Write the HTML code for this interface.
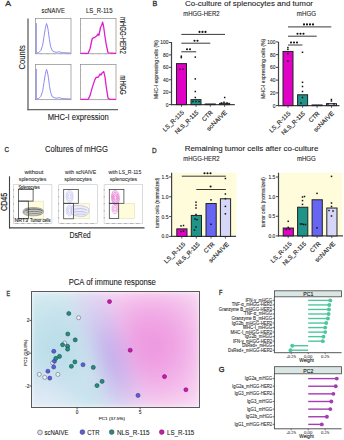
<!DOCTYPE html>
<html><head><meta charset="utf-8"><style>
html,body{margin:0;padding:0;background:#fff;}
svg{display:block;font-family:"Liberation Sans", sans-serif;}
</style></head><body>
<svg width="344" height="440" viewBox="0 0 344 440">
<rect width="344" height="440" fill="#fff"/>
<text x="5.2" y="6.0" font-size="7.6" text-anchor="start" fill="#333" stroke="#333" stroke-width="0.30" textLength="5.8" lengthAdjust="spacingAndGlyphs">A</text>
<text x="41.5" y="12.8" font-size="7.2" text-anchor="start" fill="#222" stroke="#222" stroke-width="0.10" textLength="23.3" lengthAdjust="spacingAndGlyphs">scNAIVE</text>
<text x="86" y="12.8" font-size="7.2" text-anchor="start" fill="#222" stroke="#222" stroke-width="0.10" textLength="26.5" lengthAdjust="spacingAndGlyphs">LS_R-115</text>
<line x1="28" y1="18.5" x2="28" y2="110.3" stroke="#666" stroke-width="1.35"/>
<line x1="27.4" y1="109.6" x2="118" y2="109.6" stroke="#666" stroke-width="1.35"/>
<text x="24.8" y="69.5" font-size="8.8" text-anchor="start" fill="#222" stroke="#222" stroke-width="0.10" textLength="24.4" lengthAdjust="spacingAndGlyphs" transform="rotate(-90 24.8 69.5)">Counts</text>
<text x="47.7" y="120" font-size="8.4" text-anchor="start" fill="#222" stroke="#222" stroke-width="0.10" textLength="61" lengthAdjust="spacingAndGlyphs">MHC-I expression</text>
<text x="120.2" y="16.9" font-size="8.4" text-anchor="start" fill="#222" stroke="#222" stroke-width="0.10" textLength="36.9" lengthAdjust="spacingAndGlyphs" transform="rotate(90 120.2 16.9)">mHGG-HER2</text>
<text x="120.2" y="75.3" font-size="8.4" text-anchor="start" fill="#222" stroke="#222" stroke-width="0.10" textLength="19.4" lengthAdjust="spacingAndGlyphs" transform="rotate(90 120.2 75.3)">mHGG</text>
<rect x="35.6" y="18.5" width="35.4" height="35.3" fill="#fff" stroke="#8a8a8a" stroke-width="0.7"/>
<rect x="39.6" y="53.5" width="3" height="0.6" fill="#aaa"/>
<rect x="46.1" y="53.5" width="3" height="0.6" fill="#aaa"/>
<rect x="52.6" y="53.5" width="3" height="0.6" fill="#aaa"/>
<rect x="59.1" y="53.5" width="3" height="0.6" fill="#aaa"/>
<rect x="65.6" y="53.5" width="3" height="0.6" fill="#aaa"/>
<rect x="35.4" y="23.5" width="0.7" height="1.5" fill="#aaa"/>
<rect x="35.4" y="29.5" width="0.7" height="1.5" fill="#aaa"/>
<rect x="35.4" y="35.5" width="0.7" height="1.5" fill="#aaa"/>
<rect x="35.4" y="41.5" width="0.7" height="1.5" fill="#aaa"/>
<rect x="35.4" y="47.5" width="0.7" height="1.5" fill="#aaa"/>
<rect x="80.6" y="18.5" width="35.4" height="35.3" fill="#fff" stroke="#8a8a8a" stroke-width="0.7"/>
<rect x="84.6" y="53.5" width="3" height="0.6" fill="#aaa"/>
<rect x="91.1" y="53.5" width="3" height="0.6" fill="#aaa"/>
<rect x="97.6" y="53.5" width="3" height="0.6" fill="#aaa"/>
<rect x="104.1" y="53.5" width="3" height="0.6" fill="#aaa"/>
<rect x="110.6" y="53.5" width="3" height="0.6" fill="#aaa"/>
<rect x="80.39999999999999" y="23.5" width="0.7" height="1.5" fill="#aaa"/>
<rect x="80.39999999999999" y="29.5" width="0.7" height="1.5" fill="#aaa"/>
<rect x="80.39999999999999" y="35.5" width="0.7" height="1.5" fill="#aaa"/>
<rect x="80.39999999999999" y="41.5" width="0.7" height="1.5" fill="#aaa"/>
<rect x="80.39999999999999" y="47.5" width="0.7" height="1.5" fill="#aaa"/>
<rect x="35.6" y="64.4" width="35.4" height="35.3" fill="#fff" stroke="#8a8a8a" stroke-width="0.7"/>
<rect x="39.6" y="99.4" width="3" height="0.6" fill="#aaa"/>
<rect x="46.1" y="99.4" width="3" height="0.6" fill="#aaa"/>
<rect x="52.6" y="99.4" width="3" height="0.6" fill="#aaa"/>
<rect x="59.1" y="99.4" width="3" height="0.6" fill="#aaa"/>
<rect x="65.6" y="99.4" width="3" height="0.6" fill="#aaa"/>
<rect x="35.4" y="69.4" width="0.7" height="1.5" fill="#aaa"/>
<rect x="35.4" y="75.4" width="0.7" height="1.5" fill="#aaa"/>
<rect x="35.4" y="81.4" width="0.7" height="1.5" fill="#aaa"/>
<rect x="35.4" y="87.4" width="0.7" height="1.5" fill="#aaa"/>
<rect x="35.4" y="93.4" width="0.7" height="1.5" fill="#aaa"/>
<rect x="80.6" y="64.4" width="35.4" height="35.3" fill="#fff" stroke="#8a8a8a" stroke-width="0.7"/>
<rect x="84.6" y="99.4" width="3" height="0.6" fill="#aaa"/>
<rect x="91.1" y="99.4" width="3" height="0.6" fill="#aaa"/>
<rect x="97.6" y="99.4" width="3" height="0.6" fill="#aaa"/>
<rect x="104.1" y="99.4" width="3" height="0.6" fill="#aaa"/>
<rect x="110.6" y="99.4" width="3" height="0.6" fill="#aaa"/>
<rect x="80.39999999999999" y="69.4" width="0.7" height="1.5" fill="#aaa"/>
<rect x="80.39999999999999" y="75.4" width="0.7" height="1.5" fill="#aaa"/>
<rect x="80.39999999999999" y="81.4" width="0.7" height="1.5" fill="#aaa"/>
<rect x="80.39999999999999" y="87.4" width="0.7" height="1.5" fill="#aaa"/>
<rect x="80.39999999999999" y="93.4" width="0.7" height="1.5" fill="#aaa"/>
<path d="M36.30,23.10 L36.30,53.20 L38.80,52.50 L40.80,50.50 L42.60,45.50 L44.00,36.50 L45.30,28.50 L46.50,23.50 L47.40,26.00 L48.40,31.50 L49.40,39.50 L50.60,46.50 L52.30,50.80 L54.80,52.00 L57.30,52.30 L59.30,51.70 L61.80,52.70 L70.80,53.10" stroke="#8686f2" stroke-width="0.95" fill="none" stroke-linejoin="round"/>
<path d="M36.30,69.00 L36.30,99.10 L38.80,98.40 L40.80,96.40 L42.60,91.40 L44.00,82.40 L45.30,74.40 L46.50,69.40 L47.40,71.90 L48.40,77.40 L49.40,85.40 L50.60,92.40 L52.30,96.70 L54.80,97.90 L57.30,98.20 L59.30,97.60 L61.80,98.60 L70.80,99.00" stroke="#8686f2" stroke-width="0.95" fill="none" stroke-linejoin="round"/>
<path d="M80.60,53.40 L88.10,53.40 L90.10,48.50 L92.10,39.00 L93.10,37.80 L94.60,37.50 L96.60,36.00 L98.10,34.00 L98.90,35.30 L99.60,32.00 L100.60,27.00 L101.60,25.50 L102.60,22.20 L103.60,26.50 L105.10,37.50 L106.60,46.50 L108.10,52.80 L116.00,53.40" stroke="#e01ccc" stroke-width="1.3" fill="none" stroke-linejoin="round"/>
<path d="M80.60,99.30 L88.20,99.30 L90.10,95.40 L92.60,86.40 L94.60,80.40 L96.00,77.50 L98.50,77.00 L100.00,74.00 L101.00,75.00 L102.10,72.90 L103.75,71.60 L104.90,76.40 L106.00,85.00 L107.10,92.40 L108.00,98.00 L109.50,99.30 L116.00,99.30" stroke="#e01ccc" stroke-width="1.3" fill="none" stroke-linejoin="round"/>
<text x="152.6" y="6.0" font-size="7.6" text-anchor="start" fill="#333" stroke="#333" stroke-width="0.30" textLength="4.8" lengthAdjust="spacingAndGlyphs">B</text>
<text x="185" y="6.3" font-size="7.7" text-anchor="start" fill="#222" stroke="#222" stroke-width="0.10" textLength="128" lengthAdjust="spacingAndGlyphs">Co-culture of splenocytes and tumor</text>
<text x="183.2" y="16.4" font-size="6.8" text-anchor="start" fill="#222" stroke="#222" stroke-width="0.10" textLength="36.3" lengthAdjust="spacingAndGlyphs">mHGG-HER2</text>
<text x="296.8" y="16.4" font-size="6.8" text-anchor="start" fill="#222" stroke="#222" stroke-width="0.10" textLength="19.2" lengthAdjust="spacingAndGlyphs">mHGG</text>
<line x1="171.5" y1="42" x2="171.5" y2="105.19999999999999" stroke="#444" stroke-width="1.2"/>
<line x1="170.9" y1="104.6" x2="234.8" y2="104.6" stroke="#444" stroke-width="1.2"/>
<line x1="169.0" y1="104.6" x2="171.5" y2="104.6" stroke="#333" stroke-width="0.9"/>
<text x="168.5" y="106.5" font-size="4.9" text-anchor="end" fill="#333" stroke="#333" stroke-width="0.12">0</text>
<line x1="169.0" y1="92.17999999999999" x2="171.5" y2="92.17999999999999" stroke="#333" stroke-width="0.9"/>
<text x="168.5" y="94.08" font-size="4.9" text-anchor="end" fill="#333" stroke="#333" stroke-width="0.12">20</text>
<line x1="169.0" y1="79.75999999999999" x2="171.5" y2="79.75999999999999" stroke="#333" stroke-width="0.9"/>
<text x="168.5" y="81.66" font-size="4.9" text-anchor="end" fill="#333" stroke="#333" stroke-width="0.12">40</text>
<line x1="169.0" y1="67.34" x2="171.5" y2="67.34" stroke="#333" stroke-width="0.9"/>
<text x="168.5" y="69.24000000000001" font-size="4.9" text-anchor="end" fill="#333" stroke="#333" stroke-width="0.12">60</text>
<line x1="169.0" y1="54.919999999999995" x2="171.5" y2="54.919999999999995" stroke="#333" stroke-width="0.9"/>
<text x="168.5" y="56.81999999999999" font-size="4.9" text-anchor="end" fill="#333" stroke="#333" stroke-width="0.12">80</text>
<line x1="169.0" y1="42.49999999999999" x2="171.5" y2="42.49999999999999" stroke="#333" stroke-width="0.9"/>
<text x="168.5" y="44.39999999999999" font-size="4.9" text-anchor="end" fill="#333" stroke="#333" stroke-width="0.12">100</text>
<rect x="176.5" y="63.614" width="10" height="40.986" fill="#e000c6" stroke="#222" stroke-width="1.0"/>
<line x1="181.5" y1="104.6" x2="181.5" y2="106.8" stroke="#333" stroke-width="0.8"/>
<text x="184.3" y="112.8" font-size="6.0" text-anchor="end" fill="#222" stroke="#222" stroke-width="0.14" textLength="27" lengthAdjust="spacingAndGlyphs" transform="rotate(-45 184.3 112.8)">LS_R-115</text>
<rect x="191" y="99.63199999999999" width="10" height="4.968" fill="#1f958a" stroke="#222" stroke-width="1.0"/>
<line x1="196" y1="104.6" x2="196" y2="106.8" stroke="#333" stroke-width="0.8"/>
<text x="198.8" y="112.8" font-size="6.0" text-anchor="end" fill="#222" stroke="#222" stroke-width="0.14" textLength="30.5" lengthAdjust="spacingAndGlyphs" transform="rotate(-45 198.8 112.8)">NLS_R-115</text>
<rect x="205.3" y="103.979" width="10" height="0.621" fill="#6666f2" stroke="#222" stroke-width="1.0"/>
<line x1="210.3" y1="104.6" x2="210.3" y2="106.8" stroke="#333" stroke-width="0.8"/>
<text x="213.10000000000002" y="112.8" font-size="6.0" text-anchor="end" fill="#222" stroke="#222" stroke-width="0.14" textLength="12.5" lengthAdjust="spacingAndGlyphs" transform="rotate(-45 213.10000000000002 112.8)">CTR</text>
<rect x="219.6" y="103.35799999999999" width="10" height="1.242" fill="#d6d6f8" stroke="#222" stroke-width="1.0"/>
<line x1="224.6" y1="104.6" x2="224.6" y2="106.8" stroke="#333" stroke-width="0.8"/>
<text x="227.4" y="112.8" font-size="6.0" text-anchor="end" fill="#222" stroke="#222" stroke-width="0.14" textLength="26" lengthAdjust="spacingAndGlyphs" transform="rotate(-45 227.4 112.8)">scNAIVE</text>
<rect x="180.55" y="55.45" width="1.5" height="1.5" fill="#111" stroke="none" stroke-width="1"/>
<rect x="180.55" y="56.85" width="1.5" height="1.5" fill="#111" stroke="none" stroke-width="1"/>
<rect x="179.25" y="68.45" width="1.5" height="1.5" fill="#111" stroke="none" stroke-width="1"/>
<rect x="182.25" y="68.45" width="1.5" height="1.5" fill="#111" stroke="none" stroke-width="1"/>
<rect x="194.55" y="56.35" width="1.5" height="1.5" fill="#111" stroke="none" stroke-width="1"/>
<rect x="194.55" y="78.15" width="1.5" height="1.5" fill="#111" stroke="none" stroke-width="1"/>
<rect x="194.55" y="90.75" width="1.5" height="1.5" fill="#111" stroke="none" stroke-width="1"/>
<rect x="194.55" y="96.75" width="1.5" height="1.5" fill="#111" stroke="none" stroke-width="1"/>
<rect x="192.25" y="100.75" width="1.5" height="1.5" fill="#111" stroke="none" stroke-width="1"/>
<rect x="195.25" y="100.75" width="1.5" height="1.5" fill="#111" stroke="none" stroke-width="1"/>
<rect x="198.25" y="100.75" width="1.5" height="1.5" fill="#111" stroke="none" stroke-width="1"/>
<rect x="223.95" y="96.75" width="1.5" height="1.5" fill="#111" stroke="none" stroke-width="1"/>
<rect x="220.75" y="102.25" width="1.5" height="1.5" fill="#111" stroke="none" stroke-width="1"/>
<rect x="223.25" y="101.55" width="1.5" height="1.5" fill="#111" stroke="none" stroke-width="1"/>
<rect x="226.25" y="102.25" width="1.5" height="1.5" fill="#111" stroke="none" stroke-width="1"/>
<line x1="181.3" y1="34.4" x2="225" y2="34.4" stroke="#3a3a3a" stroke-width="1.0"/>
<circle cx="199.5" cy="31.9" r="1.05" fill="#111" stroke="none" stroke-width="0.5"/>
<circle cx="202.5" cy="31.9" r="1.05" fill="#111" stroke="none" stroke-width="0.5"/>
<circle cx="205.5" cy="31.9" r="1.05" fill="#111" stroke="none" stroke-width="0.5"/>
<line x1="181.3" y1="43.2" x2="210.3" y2="43.2" stroke="#3a3a3a" stroke-width="1.0"/>
<circle cx="194.5" cy="40.7" r="1.05" fill="#111" stroke="none" stroke-width="0.5"/>
<circle cx="197.5" cy="40.7" r="1.05" fill="#111" stroke="none" stroke-width="0.5"/>
<line x1="181.3" y1="51.8" x2="196.2" y2="51.8" stroke="#3a3a3a" stroke-width="1.0"/>
<circle cx="187.0" cy="49.3" r="1.05" fill="#111" stroke="none" stroke-width="0.5"/>
<circle cx="190.0" cy="49.3" r="1.05" fill="#111" stroke="none" stroke-width="0.5"/>
<text x="158.4" y="99" font-size="5.2" text-anchor="start" fill="#333" stroke="#333" stroke-width="0.14" textLength="59" lengthAdjust="spacingAndGlyphs" transform="rotate(-90 158.4 99)">MHC-I expressing cells (%)</text>
<line x1="278.5" y1="42" x2="278.5" y2="106.19999999999999" stroke="#444" stroke-width="1.2"/>
<line x1="277.9" y1="105.6" x2="339.5" y2="105.6" stroke="#444" stroke-width="1.2"/>
<line x1="276.0" y1="105.6" x2="278.5" y2="105.6" stroke="#333" stroke-width="0.9"/>
<text x="275.5" y="107.5" font-size="4.9" text-anchor="end" fill="#333" stroke="#333" stroke-width="0.12">0</text>
<line x1="276.0" y1="92.86" x2="278.5" y2="92.86" stroke="#333" stroke-width="0.9"/>
<text x="275.5" y="94.76" font-size="4.9" text-anchor="end" fill="#333" stroke="#333" stroke-width="0.12">20</text>
<line x1="276.0" y1="80.11999999999999" x2="278.5" y2="80.11999999999999" stroke="#333" stroke-width="0.9"/>
<text x="275.5" y="82.02" font-size="4.9" text-anchor="end" fill="#333" stroke="#333" stroke-width="0.12">40</text>
<line x1="276.0" y1="67.38" x2="278.5" y2="67.38" stroke="#333" stroke-width="0.9"/>
<text x="275.5" y="69.28" font-size="4.9" text-anchor="end" fill="#333" stroke="#333" stroke-width="0.12">60</text>
<line x1="276.0" y1="54.63999999999999" x2="278.5" y2="54.63999999999999" stroke="#333" stroke-width="0.9"/>
<text x="275.5" y="56.53999999999999" font-size="4.9" text-anchor="end" fill="#333" stroke="#333" stroke-width="0.12">80</text>
<line x1="276.0" y1="41.89999999999999" x2="278.5" y2="41.89999999999999" stroke="#333" stroke-width="0.9"/>
<text x="275.5" y="43.79999999999999" font-size="4.9" text-anchor="end" fill="#333" stroke="#333" stroke-width="0.12">100</text>
<rect x="283.0" y="51.45499999999999" width="10" height="54.145" fill="#e000c6" stroke="#222" stroke-width="1.0"/>
<line x1="288.0" y1="105.6" x2="288.0" y2="107.8" stroke="#333" stroke-width="0.8"/>
<text x="290.8" y="113.8" font-size="6.0" text-anchor="end" fill="#222" stroke="#222" stroke-width="0.14" textLength="27" lengthAdjust="spacingAndGlyphs" transform="rotate(-45 290.8 113.8)">LS_R-115</text>
<rect x="297.6" y="94.77099999999999" width="10" height="10.829" fill="#1f958a" stroke="#222" stroke-width="1.0"/>
<line x1="302.6" y1="105.6" x2="302.6" y2="107.8" stroke="#333" stroke-width="0.8"/>
<text x="305.40000000000003" y="113.8" font-size="6.0" text-anchor="end" fill="#222" stroke="#222" stroke-width="0.14" textLength="30.5" lengthAdjust="spacingAndGlyphs" transform="rotate(-45 305.40000000000003 113.8)">NLS_R-115</text>
<rect x="312.1" y="104.963" width="10" height="0.637" fill="#6666f2" stroke="#222" stroke-width="1.0"/>
<line x1="317.1" y1="105.6" x2="317.1" y2="107.8" stroke="#333" stroke-width="0.8"/>
<text x="319.90000000000003" y="113.8" font-size="6.0" text-anchor="end" fill="#222" stroke="#222" stroke-width="0.14" textLength="12.5" lengthAdjust="spacingAndGlyphs" transform="rotate(-45 319.90000000000003 113.8)">CTR</text>
<rect x="326.5" y="103.689" width="10" height="1.911" fill="#d6d6f8" stroke="#222" stroke-width="1.0"/>
<line x1="331.5" y1="105.6" x2="331.5" y2="107.8" stroke="#333" stroke-width="0.8"/>
<text x="334.3" y="113.8" font-size="6.0" text-anchor="end" fill="#222" stroke="#222" stroke-width="0.14" textLength="26" lengthAdjust="spacingAndGlyphs" transform="rotate(-45 334.3 113.8)">scNAIVE</text>
<rect x="287.15" y="46.85" width="1.5" height="1.5" fill="#111" stroke="none" stroke-width="1"/>
<rect x="287.15" y="48.65" width="1.5" height="1.5" fill="#111" stroke="none" stroke-width="1"/>
<rect x="287.15" y="52.85" width="1.5" height="1.5" fill="#111" stroke="none" stroke-width="1"/>
<rect x="287.15" y="60.35" width="1.5" height="1.5" fill="#111" stroke="none" stroke-width="1"/>
<rect x="301.75" y="51.55" width="1.5" height="1.5" fill="#111" stroke="none" stroke-width="1"/>
<rect x="301.75" y="81.55" width="1.5" height="1.5" fill="#111" stroke="none" stroke-width="1"/>
<rect x="301.75" y="85.75" width="1.5" height="1.5" fill="#111" stroke="none" stroke-width="1"/>
<rect x="301.75" y="90.75" width="1.5" height="1.5" fill="#111" stroke="none" stroke-width="1"/>
<rect x="301.75" y="96.75" width="1.5" height="1.5" fill="#111" stroke="none" stroke-width="1"/>
<rect x="300.25" y="102.25" width="1.5" height="1.5" fill="#111" stroke="none" stroke-width="1"/>
<rect x="330.65" y="98.75" width="1.5" height="1.5" fill="#111" stroke="none" stroke-width="1"/>
<rect x="330.65" y="100.25" width="1.5" height="1.5" fill="#111" stroke="none" stroke-width="1"/>
<rect x="327.25" y="103.25" width="1.5" height="1.5" fill="#111" stroke="none" stroke-width="1"/>
<rect x="333.25" y="103.25" width="1.5" height="1.5" fill="#111" stroke="none" stroke-width="1"/>
<line x1="288" y1="26.9" x2="331.3" y2="26.9" stroke="#3a3a3a" stroke-width="1.0"/>
<circle cx="304.0" cy="24.4" r="1.05" fill="#111" stroke="none" stroke-width="0.5"/>
<circle cx="307.0" cy="24.4" r="1.05" fill="#111" stroke="none" stroke-width="0.5"/>
<circle cx="310.0" cy="24.4" r="1.05" fill="#111" stroke="none" stroke-width="0.5"/>
<circle cx="313.0" cy="24.4" r="1.05" fill="#111" stroke="none" stroke-width="0.5"/>
<line x1="288" y1="36.2" x2="316.7" y2="36.2" stroke="#3a3a3a" stroke-width="1.0"/>
<circle cx="297.5" cy="33.7" r="1.05" fill="#111" stroke="none" stroke-width="0.5"/>
<circle cx="300.5" cy="33.7" r="1.05" fill="#111" stroke="none" stroke-width="0.5"/>
<circle cx="303.5" cy="33.7" r="1.05" fill="#111" stroke="none" stroke-width="0.5"/>
<line x1="288" y1="45" x2="302.4" y2="45" stroke="#3a3a3a" stroke-width="1.0"/>
<circle cx="291.0" cy="42.5" r="1.05" fill="#111" stroke="none" stroke-width="0.5"/>
<circle cx="294.0" cy="42.5" r="1.05" fill="#111" stroke="none" stroke-width="0.5"/>
<circle cx="297.0" cy="42.5" r="1.05" fill="#111" stroke="none" stroke-width="0.5"/>
<text x="264.6" y="98.8" font-size="5.2" text-anchor="start" fill="#333" stroke="#333" stroke-width="0.14" textLength="60" lengthAdjust="spacingAndGlyphs" transform="rotate(-90 264.6 98.8)">MHC-I expressing cells (%)</text>
<text x="4.4" y="152.2" font-size="7.6" text-anchor="start" fill="#333" stroke="#333" stroke-width="0.30" textLength="4.6" lengthAdjust="spacingAndGlyphs">C</text>
<text x="45" y="151.8" font-size="8.3" text-anchor="start" fill="#222" stroke="#222" stroke-width="0.10" textLength="63" lengthAdjust="spacingAndGlyphs">Coltures of mHGG</text>
<line x1="9.5" y1="176.3" x2="9.5" y2="228.4" stroke="#444" stroke-width="1.1"/>
<line x1="9.0" y1="227.9" x2="144.5" y2="227.9" stroke="#444" stroke-width="1.1"/>
<text x="6.6" y="210.9" font-size="8.2" text-anchor="start" fill="#222" stroke="#222" stroke-width="0.25" textLength="18.2" lengthAdjust="spacingAndGlyphs" transform="rotate(-90 6.6 210.9)">CD45</text>
<text x="69.4" y="237.5" font-size="8.5" text-anchor="start" fill="#222" stroke="#222" stroke-width="0.10" textLength="21.2" lengthAdjust="spacingAndGlyphs">DsRed</text>
<rect x="13.3" y="184.7" width="38.6" height="38.8" fill="#fff" stroke="#c4c4c4" stroke-width="0.6"/>
<rect x="15.3" y="223.0" width="3" height="0.6" fill="#999"/>
<rect x="21.3" y="223.0" width="3" height="0.6" fill="#999"/>
<rect x="27.3" y="223.0" width="3" height="0.6" fill="#999"/>
<rect x="33.3" y="223.0" width="3" height="0.6" fill="#999"/>
<rect x="39.3" y="223.0" width="3" height="0.6" fill="#999"/>
<rect x="45.3" y="223.0" width="3" height="0.6" fill="#999"/>
<rect x="13.0" y="189" width="0.7" height="1.5" fill="#999"/>
<rect x="13.0" y="196" width="0.7" height="1.5" fill="#999"/>
<rect x="13.0" y="203" width="0.7" height="1.5" fill="#999"/>
<rect x="13.0" y="210" width="0.7" height="1.5" fill="#999"/>
<rect x="13.0" y="217" width="0.7" height="1.5" fill="#999"/>
<text x="24.4" y="174.2" font-size="5.8" text-anchor="start" fill="#333" stroke="#333" stroke-width="0.10" textLength="19" lengthAdjust="spacingAndGlyphs">without</text>
<text x="32.6" y="181.0" font-size="5.8" text-anchor="middle" fill="#333" stroke="#333" stroke-width="0.10" textLength="27.5" lengthAdjust="spacingAndGlyphs">splenocytes</text>
<rect x="58.7" y="184.7" width="38.6" height="38.8" fill="#fff" stroke="#c4c4c4" stroke-width="0.6"/>
<rect x="60.7" y="223.0" width="3" height="0.6" fill="#999"/>
<rect x="66.7" y="223.0" width="3" height="0.6" fill="#999"/>
<rect x="72.7" y="223.0" width="3" height="0.6" fill="#999"/>
<rect x="78.7" y="223.0" width="3" height="0.6" fill="#999"/>
<rect x="84.7" y="223.0" width="3" height="0.6" fill="#999"/>
<rect x="90.7" y="223.0" width="3" height="0.6" fill="#999"/>
<rect x="58.400000000000006" y="189" width="0.7" height="1.5" fill="#999"/>
<rect x="58.400000000000006" y="196" width="0.7" height="1.5" fill="#999"/>
<rect x="58.400000000000006" y="203" width="0.7" height="1.5" fill="#999"/>
<rect x="58.400000000000006" y="210" width="0.7" height="1.5" fill="#999"/>
<rect x="58.400000000000006" y="217" width="0.7" height="1.5" fill="#999"/>
<text x="65.1" y="174.2" font-size="5.8" text-anchor="start" fill="#333" stroke="#333" stroke-width="0.10" textLength="31.1" lengthAdjust="spacingAndGlyphs">with scNAIVE</text>
<text x="78.0" y="181.0" font-size="5.8" text-anchor="middle" fill="#333" stroke="#333" stroke-width="0.10" textLength="27.5" lengthAdjust="spacingAndGlyphs">splenocytes</text>
<rect x="104.1" y="184.7" width="38.6" height="38.8" fill="#fff" stroke="#c4c4c4" stroke-width="0.6"/>
<rect x="106.1" y="223.0" width="3" height="0.6" fill="#999"/>
<rect x="112.1" y="223.0" width="3" height="0.6" fill="#999"/>
<rect x="118.1" y="223.0" width="3" height="0.6" fill="#999"/>
<rect x="124.1" y="223.0" width="3" height="0.6" fill="#999"/>
<rect x="130.1" y="223.0" width="3" height="0.6" fill="#999"/>
<rect x="136.1" y="223.0" width="3" height="0.6" fill="#999"/>
<rect x="103.8" y="189" width="0.7" height="1.5" fill="#999"/>
<rect x="103.8" y="196" width="0.7" height="1.5" fill="#999"/>
<rect x="103.8" y="203" width="0.7" height="1.5" fill="#999"/>
<rect x="103.8" y="210" width="0.7" height="1.5" fill="#999"/>
<rect x="103.8" y="217" width="0.7" height="1.5" fill="#999"/>
<text x="108.5" y="174.2" font-size="5.8" text-anchor="start" fill="#333" stroke="#333" stroke-width="0.10" textLength="32.7" lengthAdjust="spacingAndGlyphs">with LS_R-115</text>
<text x="123.39999999999999" y="181.0" font-size="5.8" text-anchor="middle" fill="#333" stroke="#333" stroke-width="0.10" textLength="27.5" lengthAdjust="spacingAndGlyphs">splenocytes</text>
<rect x="28.3" y="201.1" width="15.3" height="17.700000000000017" fill="#fffcdc" stroke="#cfcfb0" stroke-width="0.4"/>
<rect x="73.5" y="203.3" width="16.0" height="15.5" fill="#fffcdc" stroke="#cfcfb0" stroke-width="0.4"/>
<rect x="118.7" y="203.3" width="15.999999999999986" height="15.299999999999983" fill="#fffcdc" stroke="#cfcfb0" stroke-width="0.4"/>
<path d="M23,211.8 C23,208.3 28,207.6 33,207.6 C38.5,207.6 43.3,208.6 43.5,211.2 C43.6,214.6 38.5,215.8 33,215.8 C28,215.8 23,215.2 23,211.8 Z" stroke="#808080" stroke-width="0.6" fill="#c6c6c0"/>
<path d="M25.5,210.6 C29.5,208.6 38.5,208.4 42.5,210.8" stroke="#3e3e3e" stroke-width="0.8" fill="none"/>
<path d="M26.5,212.4 C31,210.9 38.5,210.9 42,212.6" stroke="#555" stroke-width="0.6" fill="none"/>
<path d="M28,214.2 C32.5,213.2 37.5,213.2 41,214.4" stroke="#666" stroke-width="0.6" fill="none"/>
<path d="M23.6,213 C24.5,209.5 27,208.7 30,208.3" stroke="#777" stroke-width="0.6" fill="none"/>
<ellipse cx="69.6" cy="196.4" rx="3.60" ry="6.40" fill="#f2f2fc" stroke="#aaaaec" stroke-width="0.45" opacity="0.9" transform="rotate(0 69.6 196.4)"/>
<ellipse cx="69.6" cy="196.4" rx="2.51" ry="4.46" fill="none" stroke="#aaaaec" stroke-width="0.45" opacity="0.9" transform="rotate(0 69.6 196.4)"/>
<ellipse cx="69.6" cy="196.4" rx="1.42" ry="2.52" fill="none" stroke="#aaaaec" stroke-width="0.45" opacity="0.9" transform="rotate(0 69.6 196.4)"/>
<ellipse cx="69.5" cy="210.5" rx="3.40" ry="5.60" fill="#f2f2fc" stroke="#aaaaec" stroke-width="0.45" opacity="0.9" transform="rotate(0 69.5 210.5)"/>
<ellipse cx="69.5" cy="210.5" rx="2.37" ry="3.90" fill="none" stroke="#aaaaec" stroke-width="0.45" opacity="0.9" transform="rotate(0 69.5 210.5)"/>
<ellipse cx="69.5" cy="210.5" rx="1.34" ry="2.21" fill="none" stroke="#aaaaec" stroke-width="0.45" opacity="0.9" transform="rotate(0 69.5 210.5)"/>
<path d="M72,206 C78,204.8 86,205.5 88.5,208.5 C89.5,211.5 88,215.5 84,216.3 C79,216.8 74,215.8 71.5,214 Z" stroke="#a0a0e6" stroke-width="0.5" fill="#ececf6"/>
<path d="M74,209.5 C79,208 85,208.5 87,210.5" stroke="#9090e0" stroke-width="0.5" fill="none"/>
<path d="M74,212 C79,211 84,211.5 86.5,213" stroke="#9090e0" stroke-width="0.5" fill="none"/>
<path d="M75,214.3 C79,213.8 83,214 85.5,214.8" stroke="#9a9ae4" stroke-width="0.45" fill="none"/>
<ellipse cx="115.4" cy="197.8" rx="3.90" ry="7.40" fill="#fbe8f6" stroke="#e050c8" stroke-width="0.55" opacity="0.95" transform="rotate(-4 115.4 197.8)"/>
<ellipse cx="115.4" cy="197.8" rx="2.99" ry="5.68" fill="none" stroke="#e050c8" stroke-width="0.55" opacity="0.95" transform="rotate(-4 115.4 197.8)"/>
<ellipse cx="115.4" cy="197.8" rx="2.09" ry="3.96" fill="none" stroke="#e050c8" stroke-width="0.55" opacity="0.95" transform="rotate(-4 115.4 197.8)"/>
<ellipse cx="115.4" cy="197.8" rx="1.18" ry="2.24" fill="none" stroke="#e050c8" stroke-width="0.55" opacity="0.95" transform="rotate(-4 115.4 197.8)"/>
<ellipse cx="115.0" cy="208.8" rx="3.00" ry="4.80" fill="none" stroke="#e060cc" stroke-width="0.5" opacity="0.9" transform="rotate(0 115.0 208.8)"/>
<ellipse cx="115.0" cy="208.8" rx="2.09" ry="3.35" fill="none" stroke="#e060cc" stroke-width="0.5" opacity="0.9" transform="rotate(0 115.0 208.8)"/>
<ellipse cx="115.0" cy="208.8" rx="1.18" ry="1.89" fill="none" stroke="#e060cc" stroke-width="0.5" opacity="0.9" transform="rotate(0 115.0 208.8)"/>
<rect x="18.5" y="189.4" width="14.6" height="11.699999999999989" fill="none" stroke="#3a3a3a" stroke-width="0.75"/>
<rect x="18.5" y="201.1" width="9.8" height="17.700000000000017" fill="none" stroke="#3a3a3a" stroke-width="0.75"/>
<rect x="63.7" y="189.4" width="14.6" height="13.900000000000006" fill="none" stroke="#3a3a3a" stroke-width="0.75"/>
<rect x="63.7" y="203.3" width="9.799999999999997" height="15.5" fill="none" stroke="#3a3a3a" stroke-width="0.75"/>
<rect x="109.3" y="189.4" width="14.6" height="13.900000000000006" fill="none" stroke="#3a3a3a" stroke-width="0.75"/>
<rect x="109.3" y="203.3" width="9.400000000000006" height="15.299999999999983" fill="none" stroke="#3a3a3a" stroke-width="0.75"/>
<text x="18.4" y="188.6" font-size="4.6" text-anchor="start" fill="#222" stroke="#222" stroke-width="0.10" textLength="21.2" lengthAdjust="spacingAndGlyphs">Splenocytes</text>
<text x="14.6" y="222.4" font-size="4.5" text-anchor="start" fill="#222" stroke="#222" stroke-width="0.12" textLength="13.5" lengthAdjust="spacingAndGlyphs">NRT3</text>
<text x="29.9" y="222.4" font-size="4.5" text-anchor="start" fill="#222" stroke="#222" stroke-width="0.12" textLength="20.5" lengthAdjust="spacingAndGlyphs">Tumor cells</text>
<text x="152" y="152.5" font-size="7.6" text-anchor="start" fill="#333" stroke="#333" stroke-width="0.30" textLength="4.6" lengthAdjust="spacingAndGlyphs">D</text>
<text x="184.7" y="151.0" font-size="7.9" text-anchor="start" fill="#222" stroke="#222" stroke-width="0.10" textLength="133.7" lengthAdjust="spacingAndGlyphs">Remaining tumor cells after co-culture</text>
<text x="183.3" y="161.2" font-size="6.8" text-anchor="start" fill="#222" stroke="#222" stroke-width="0.10" textLength="36.3" lengthAdjust="spacingAndGlyphs">mHGG-HER2</text>
<text x="296.9" y="161.2" font-size="6.8" text-anchor="start" fill="#222" stroke="#222" stroke-width="0.10" textLength="18.9" lengthAdjust="spacingAndGlyphs">mHGG</text>
<rect x="171.6" y="172.7" width="64.70000000000002" height="63.70000000000002" fill="#fffcdc" stroke="none" stroke-width="1"/>
<line x1="171.6" y1="172.7" x2="171.6" y2="237.0" stroke="#444" stroke-width="1.2"/>
<line x1="171.0" y1="236.4" x2="236.1" y2="236.4" stroke="#444" stroke-width="1.2"/>
<line x1="169.1" y1="236.4" x2="171.6" y2="236.4" stroke="#333" stroke-width="0.9"/>
<text x="168.4" y="238.3" font-size="4.9" text-anchor="end" fill="#333" stroke="#333" stroke-width="0.12">0.0</text>
<line x1="169.1" y1="216.6" x2="171.6" y2="216.6" stroke="#333" stroke-width="0.9"/>
<text x="168.4" y="218.5" font-size="4.9" text-anchor="end" fill="#333" stroke="#333" stroke-width="0.12">0.5</text>
<line x1="169.1" y1="196.8" x2="171.6" y2="196.8" stroke="#333" stroke-width="0.9"/>
<text x="168.4" y="198.70000000000002" font-size="4.9" text-anchor="end" fill="#333" stroke="#333" stroke-width="0.12">1.0</text>
<line x1="169.1" y1="177.0" x2="171.6" y2="177.0" stroke="#333" stroke-width="0.9"/>
<text x="168.4" y="178.9" font-size="4.9" text-anchor="end" fill="#333" stroke="#333" stroke-width="0.12">1.5</text>
<rect x="176.8" y="228.876" width="10.2" height="7.524" fill="#e000c6" stroke="#222" stroke-width="1.0"/>
<line x1="181.8" y1="236.4" x2="181.8" y2="238.6" stroke="#333" stroke-width="0.8"/>
<text x="185.70000000000002" y="244.6" font-size="6.0" text-anchor="end" fill="#222" stroke="#222" stroke-width="0.14" textLength="27" lengthAdjust="spacingAndGlyphs" transform="rotate(-45 185.70000000000002 244.6)">LS_R-115</text>
<rect x="191.3" y="215.412" width="10.2" height="20.988000000000003" fill="#1f958a" stroke="#222" stroke-width="1.0"/>
<line x1="196.3" y1="236.4" x2="196.3" y2="238.6" stroke="#333" stroke-width="0.8"/>
<text x="200.20000000000002" y="244.6" font-size="6.0" text-anchor="end" fill="#222" stroke="#222" stroke-width="0.14" textLength="30.5" lengthAdjust="spacingAndGlyphs" transform="rotate(-45 200.20000000000002 244.6)">NLS_R-115</text>
<rect x="206" y="203.532" width="10.2" height="32.868" fill="#6666f2" stroke="#222" stroke-width="1.0"/>
<line x1="211" y1="236.4" x2="211" y2="238.6" stroke="#333" stroke-width="0.8"/>
<text x="214.9" y="244.6" font-size="6.0" text-anchor="end" fill="#222" stroke="#222" stroke-width="0.14" textLength="12.5" lengthAdjust="spacingAndGlyphs" transform="rotate(-45 214.9 244.6)">CTR</text>
<rect x="220.4" y="198.78" width="10.2" height="37.62" fill="#d6d6f8" stroke="#222" stroke-width="1.0"/>
<line x1="225.4" y1="236.4" x2="225.4" y2="238.6" stroke="#333" stroke-width="0.8"/>
<text x="229.3" y="244.6" font-size="6.0" text-anchor="end" fill="#222" stroke="#222" stroke-width="0.14" textLength="26" lengthAdjust="spacingAndGlyphs" transform="rotate(-45 229.3 244.6)">scNAIVE</text>
<rect x="180.25" y="225.15" width="1.5" height="1.5" fill="#111" stroke="none" stroke-width="1"/>
<rect x="182.75" y="224.75" width="1.5" height="1.5" fill="#111" stroke="none" stroke-width="1"/>
<rect x="180.25" y="230.75" width="1.5" height="1.5" fill="#111" stroke="none" stroke-width="1"/>
<rect x="182.75" y="230.45" width="1.5" height="1.5" fill="#111" stroke="none" stroke-width="1"/>
<rect x="195.25" y="201.45" width="1.5" height="1.5" fill="#111" stroke="none" stroke-width="1"/>
<rect x="195.25" y="204.45" width="1.5" height="1.5" fill="#111" stroke="none" stroke-width="1"/>
<rect x="195.25" y="207.25" width="1.5" height="1.5" fill="#111" stroke="none" stroke-width="1"/>
<rect x="195.25" y="213.75" width="1.5" height="1.5" fill="#111" stroke="none" stroke-width="1"/>
<rect x="194.25" y="218.25" width="1.5" height="1.5" fill="#111" stroke="none" stroke-width="1"/>
<rect x="196.25" y="218.95" width="1.5" height="1.5" fill="#111" stroke="none" stroke-width="1"/>
<rect x="195.25" y="226.25" width="1.5" height="1.5" fill="#111" stroke="none" stroke-width="1"/>
<rect x="193.75" y="229.35" width="1.5" height="1.5" fill="#111" stroke="none" stroke-width="1"/>
<rect x="210.25" y="199.15" width="1.5" height="1.5" fill="#111" stroke="none" stroke-width="1"/>
<rect x="210.25" y="223.55" width="1.5" height="1.5" fill="#111" stroke="none" stroke-width="1"/>
<rect x="224.65" y="177.75" width="1.5" height="1.5" fill="#111" stroke="none" stroke-width="1"/>
<rect x="224.65" y="193.25" width="1.5" height="1.5" fill="#111" stroke="none" stroke-width="1"/>
<rect x="224.65" y="197.95" width="1.5" height="1.5" fill="#111" stroke="none" stroke-width="1"/>
<rect x="224.65" y="205.65" width="1.5" height="1.5" fill="#111" stroke="none" stroke-width="1"/>
<rect x="224.65" y="213.05" width="1.5" height="1.5" fill="#111" stroke="none" stroke-width="1"/>
<line x1="181.8" y1="176.2" x2="225.9" y2="176.2" stroke="#3a3a3a" stroke-width="1.0"/>
<circle cx="204.5" cy="173.2" r="1.05" fill="#111" stroke="none" stroke-width="0.5"/>
<circle cx="207.5" cy="173.2" r="1.05" fill="#111" stroke="none" stroke-width="0.5"/>
<circle cx="210.5" cy="173.2" r="1.05" fill="#111" stroke="none" stroke-width="0.5"/>
<line x1="196.3" y1="189.5" x2="225.9" y2="189.5" stroke="#3a3a3a" stroke-width="1.0"/>
<circle cx="210.6" cy="186.5" r="1.05" fill="#111" stroke="none" stroke-width="0.5"/>
<text x="159" y="227.70000000000002" font-size="5.4" text-anchor="start" fill="#333" stroke="#333" stroke-width="0.14" textLength="50" lengthAdjust="spacingAndGlyphs" transform="rotate(-90 159 227.70000000000002)">tumor cells (normalized)</text>
<rect x="278.5" y="172.7" width="63.80000000000001" height="63.20000000000002" fill="#fffcdc" stroke="none" stroke-width="1"/>
<line x1="278.5" y1="172.7" x2="278.5" y2="236.5" stroke="#444" stroke-width="1.2"/>
<line x1="277.9" y1="235.9" x2="343.0" y2="235.9" stroke="#444" stroke-width="1.2"/>
<line x1="276.0" y1="235.9" x2="278.5" y2="235.9" stroke="#333" stroke-width="0.9"/>
<text x="275.3" y="237.8" font-size="4.9" text-anchor="end" fill="#333" stroke="#333" stroke-width="0.12">0.0</text>
<line x1="276.0" y1="216.26666666666668" x2="278.5" y2="216.26666666666668" stroke="#333" stroke-width="0.9"/>
<text x="275.3" y="218.16666666666669" font-size="4.9" text-anchor="end" fill="#333" stroke="#333" stroke-width="0.12">0.5</text>
<line x1="276.0" y1="196.63333333333333" x2="278.5" y2="196.63333333333333" stroke="#333" stroke-width="0.9"/>
<text x="275.3" y="198.53333333333333" font-size="4.9" text-anchor="end" fill="#333" stroke="#333" stroke-width="0.12">1.0</text>
<line x1="276.0" y1="177.0" x2="278.5" y2="177.0" stroke="#333" stroke-width="0.9"/>
<text x="275.3" y="178.9" font-size="4.9" text-anchor="end" fill="#333" stroke="#333" stroke-width="0.12">1.5</text>
<rect x="283.2" y="228.04666666666668" width="10.2" height="7.853333333333335" fill="#e000c6" stroke="#222" stroke-width="1.0"/>
<line x1="288.2" y1="235.9" x2="288.2" y2="238.1" stroke="#333" stroke-width="0.8"/>
<text x="292.09999999999997" y="244.1" font-size="6.0" text-anchor="end" fill="#222" stroke="#222" stroke-width="0.14" textLength="27" lengthAdjust="spacingAndGlyphs" transform="rotate(-45 292.09999999999997 244.1)">LS_R-115</text>
<rect x="297.6" y="207.23533333333333" width="10.2" height="28.66466666666667" fill="#1f958a" stroke="#222" stroke-width="1.0"/>
<line x1="302.6" y1="235.9" x2="302.6" y2="238.1" stroke="#333" stroke-width="0.8"/>
<text x="306.5" y="244.1" font-size="6.0" text-anchor="end" fill="#222" stroke="#222" stroke-width="0.14" textLength="30.5" lengthAdjust="spacingAndGlyphs" transform="rotate(-45 306.5 244.1)">NLS_R-115</text>
<rect x="312.1" y="199.77466666666666" width="10.2" height="36.12533333333334" fill="#6666f2" stroke="#222" stroke-width="1.0"/>
<line x1="317.1" y1="235.9" x2="317.1" y2="238.1" stroke="#333" stroke-width="0.8"/>
<text x="321.0" y="244.1" font-size="6.0" text-anchor="end" fill="#222" stroke="#222" stroke-width="0.14" textLength="12.5" lengthAdjust="spacingAndGlyphs" transform="rotate(-45 321.0 244.1)">CTR</text>
<rect x="326.8" y="208.02066666666667" width="10.2" height="27.879333333333335" fill="#d6d6f8" stroke="#222" stroke-width="1.0"/>
<line x1="331.8" y1="235.9" x2="331.8" y2="238.1" stroke="#333" stroke-width="0.8"/>
<text x="335.7" y="244.1" font-size="6.0" text-anchor="end" fill="#222" stroke="#222" stroke-width="0.14" textLength="26" lengthAdjust="spacingAndGlyphs" transform="rotate(-45 335.7 244.1)">scNAIVE</text>
<rect x="287.45" y="220.55" width="1.5" height="1.5" fill="#111" stroke="none" stroke-width="1"/>
<rect x="287.45" y="226.65" width="1.5" height="1.5" fill="#111" stroke="none" stroke-width="1"/>
<rect x="285.55" y="228.75" width="1.5" height="1.5" fill="#111" stroke="none" stroke-width="1"/>
<rect x="288.75" y="228.45" width="1.5" height="1.5" fill="#111" stroke="none" stroke-width="1"/>
<rect x="301.75" y="196.25" width="1.5" height="1.5" fill="#111" stroke="none" stroke-width="1"/>
<rect x="303.75" y="195.75" width="1.5" height="1.5" fill="#111" stroke="none" stroke-width="1"/>
<rect x="301.75" y="199.85" width="1.5" height="1.5" fill="#111" stroke="none" stroke-width="1"/>
<rect x="301.75" y="203.65" width="1.5" height="1.5" fill="#111" stroke="none" stroke-width="1"/>
<rect x="299.75" y="223.25" width="1.5" height="1.5" fill="#111" stroke="none" stroke-width="1"/>
<rect x="301.25" y="223.25" width="1.5" height="1.5" fill="#111" stroke="none" stroke-width="1"/>
<rect x="302.75" y="223.75" width="1.5" height="1.5" fill="#111" stroke="none" stroke-width="1"/>
<rect x="304.75" y="223.75" width="1.5" height="1.5" fill="#111" stroke="none" stroke-width="1"/>
<rect x="316.25" y="192.65" width="1.5" height="1.5" fill="#111" stroke="none" stroke-width="1"/>
<rect x="316.25" y="227.05" width="1.5" height="1.5" fill="#111" stroke="none" stroke-width="1"/>
<rect x="330.75" y="175.65" width="1.5" height="1.5" fill="#111" stroke="none" stroke-width="1"/>
<rect x="330.75" y="202.25" width="1.5" height="1.5" fill="#111" stroke="none" stroke-width="1"/>
<rect x="330.75" y="205.75" width="1.5" height="1.5" fill="#111" stroke="none" stroke-width="1"/>
<rect x="328.25" y="209.75" width="1.5" height="1.5" fill="#111" stroke="none" stroke-width="1"/>
<rect x="332.25" y="210.25" width="1.5" height="1.5" fill="#111" stroke="none" stroke-width="1"/>
<rect x="330.75" y="215.25" width="1.5" height="1.5" fill="#111" stroke="none" stroke-width="1"/>
<text x="265" y="227.20000000000002" font-size="5.4" text-anchor="start" fill="#333" stroke="#333" stroke-width="0.14" textLength="50" lengthAdjust="spacingAndGlyphs" transform="rotate(-90 265 227.20000000000002)">tumor cells (normalized)</text>
<text x="6.5" y="295.5" font-size="6.8" text-anchor="start" fill="#333" stroke="#333" stroke-width="0.30" textLength="3.6" lengthAdjust="spacingAndGlyphs">E</text>
<text x="68.7" y="285.3" font-size="8.4" text-anchor="start" fill="#222" stroke="#222" stroke-width="0.10" textLength="87.2" lengthAdjust="spacingAndGlyphs">PCA of immune response</text>
<defs><filter id="blur2" x="-5%" y="-5%" width="110%" height="110%"><feGaussianBlur stdDeviation="2.2"/></filter><clipPath id="pcaclip"><rect x="31.5" y="291.5" width="168" height="116"/></clipPath></defs>
<g clip-path="url(#pcaclip)"><g filter="url(#blur2)">
<rect x="31.5" y="291.5" width="4.3" height="4.3" fill="#daecf2"/><rect x="35.5" y="291.5" width="4.3" height="4.3" fill="#d9ecf2"/><rect x="39.5" y="291.5" width="4.3" height="4.3" fill="#d8ebf2"/><rect x="43.5" y="291.5" width="4.3" height="4.3" fill="#d8ebf1"/><rect x="47.5" y="291.5" width="4.3" height="4.3" fill="#d8ebf1"/><rect x="51.5" y="291.5" width="4.3" height="4.3" fill="#d8ebf1"/><rect x="55.5" y="291.5" width="4.3" height="4.3" fill="#d8eaf1"/><rect x="59.5" y="291.5" width="4.3" height="4.3" fill="#d8eaf1"/><rect x="63.5" y="291.5" width="4.3" height="4.3" fill="#d9e9f2"/><rect x="67.5" y="291.5" width="4.3" height="4.3" fill="#dbe7f2"/><rect x="71.5" y="291.5" width="4.3" height="4.3" fill="#dce5f2"/><rect x="75.5" y="291.5" width="4.3" height="4.3" fill="#dee2f3"/><rect x="79.5" y="291.5" width="4.3" height="4.3" fill="#dfdff3"/><rect x="83.5" y="291.5" width="4.3" height="4.3" fill="#e1ddf4"/><rect x="87.5" y="291.5" width="4.3" height="4.3" fill="#e3dbf4"/><rect x="91.5" y="291.5" width="4.3" height="4.3" fill="#e5daf4"/><rect x="95.5" y="291.5" width="4.3" height="4.3" fill="#e7d9f3"/><rect x="99.5" y="291.5" width="4.3" height="4.3" fill="#ead8f3"/><rect x="103.5" y="291.5" width="4.3" height="4.3" fill="#edd7f3"/><rect x="107.5" y="291.5" width="4.3" height="4.3" fill="#f0d5f2"/><rect x="111.5" y="291.5" width="4.3" height="4.3" fill="#f2d4f1"/><rect x="115.5" y="291.5" width="4.3" height="4.3" fill="#f4d2f1"/><rect x="119.5" y="291.5" width="4.3" height="4.3" fill="#f5d1f0"/><rect x="123.5" y="291.5" width="4.3" height="4.3" fill="#f5cff0"/><rect x="127.5" y="291.5" width="4.3" height="4.3" fill="#f5cdef"/><rect x="131.5" y="291.5" width="4.3" height="4.3" fill="#f5ccef"/><rect x="135.5" y="291.5" width="4.3" height="4.3" fill="#f5cbef"/><rect x="139.5" y="291.5" width="4.3" height="4.3" fill="#f5caee"/><rect x="143.5" y="291.5" width="4.3" height="4.3" fill="#f5caee"/><rect x="147.5" y="291.5" width="4.3" height="4.3" fill="#f5caee"/><rect x="151.5" y="291.5" width="4.3" height="4.3" fill="#f5c9ee"/><rect x="155.5" y="291.5" width="4.3" height="4.3" fill="#f5caee"/><rect x="159.5" y="291.5" width="4.3" height="4.3" fill="#f5caee"/><rect x="163.5" y="291.5" width="4.3" height="4.3" fill="#f5cbef"/><rect x="167.5" y="291.5" width="4.3" height="4.3" fill="#f5ccef"/><rect x="171.5" y="291.5" width="4.3" height="4.3" fill="#f6cdef"/><rect x="175.5" y="291.5" width="4.3" height="4.3" fill="#f6cff0"/><rect x="179.5" y="291.5" width="4.3" height="4.3" fill="#f6d1f0"/><rect x="183.5" y="291.5" width="4.3" height="4.3" fill="#f6d3f1"/><rect x="187.5" y="291.5" width="4.3" height="4.3" fill="#f7d6f1"/><rect x="191.5" y="291.5" width="4.3" height="4.3" fill="#f7d8f2"/><rect x="195.5" y="291.5" width="4.3" height="4.3" fill="#f7d9f2"/><rect x="31.5" y="295.5" width="4.3" height="4.3" fill="#d4eaf0"/><rect x="35.5" y="295.5" width="4.3" height="4.3" fill="#d3e9f0"/><rect x="39.5" y="295.5" width="4.3" height="4.3" fill="#d3e9f0"/><rect x="43.5" y="295.5" width="4.3" height="4.3" fill="#d2e8f0"/><rect x="47.5" y="295.5" width="4.3" height="4.3" fill="#d2e8f0"/><rect x="51.5" y="295.5" width="4.3" height="4.3" fill="#d1e8ef"/><rect x="55.5" y="295.5" width="4.3" height="4.3" fill="#d2e8ef"/><rect x="59.5" y="295.5" width="4.3" height="4.3" fill="#d2e7f0"/><rect x="63.5" y="295.5" width="4.3" height="4.3" fill="#d3e6f0"/><rect x="67.5" y="295.5" width="4.3" height="4.3" fill="#d5e4f0"/><rect x="71.5" y="295.5" width="4.3" height="4.3" fill="#d7e2f1"/><rect x="75.5" y="295.5" width="4.3" height="4.3" fill="#d9dff1"/><rect x="79.5" y="295.5" width="4.3" height="4.3" fill="#dbdcf2"/><rect x="83.5" y="295.5" width="4.3" height="4.3" fill="#dcd9f2"/><rect x="87.5" y="295.5" width="4.3" height="4.3" fill="#ded6f2"/><rect x="91.5" y="295.5" width="4.3" height="4.3" fill="#e0d5f2"/><rect x="95.5" y="295.5" width="4.3" height="4.3" fill="#e3d3f2"/><rect x="99.5" y="295.5" width="4.3" height="4.3" fill="#e6d2f2"/><rect x="103.5" y="295.5" width="4.3" height="4.3" fill="#e9d1f1"/><rect x="107.5" y="295.5" width="4.3" height="4.3" fill="#edcff0"/><rect x="111.5" y="295.5" width="4.3" height="4.3" fill="#f0cdf0"/><rect x="115.5" y="295.5" width="4.3" height="4.3" fill="#f2cbef"/><rect x="119.5" y="295.5" width="4.3" height="4.3" fill="#f3c9ee"/><rect x="123.5" y="295.5" width="4.3" height="4.3" fill="#f4c7ed"/><rect x="127.5" y="295.5" width="4.3" height="4.3" fill="#f4c5ed"/><rect x="131.5" y="295.5" width="4.3" height="4.3" fill="#f4c3ec"/><rect x="135.5" y="295.5" width="4.3" height="4.3" fill="#f4c2ec"/><rect x="139.5" y="295.5" width="4.3" height="4.3" fill="#f4c1ec"/><rect x="143.5" y="295.5" width="4.3" height="4.3" fill="#f4c0ec"/><rect x="147.5" y="295.5" width="4.3" height="4.3" fill="#f4c0eb"/><rect x="151.5" y="295.5" width="4.3" height="4.3" fill="#f4c0eb"/><rect x="155.5" y="295.5" width="4.3" height="4.3" fill="#f4c0ec"/><rect x="159.5" y="295.5" width="4.3" height="4.3" fill="#f4c1ec"/><rect x="163.5" y="295.5" width="4.3" height="4.3" fill="#f4c2ec"/><rect x="167.5" y="295.5" width="4.3" height="4.3" fill="#f4c3ec"/><rect x="171.5" y="295.5" width="4.3" height="4.3" fill="#f4c5ed"/><rect x="175.5" y="295.5" width="4.3" height="4.3" fill="#f5c6ed"/><rect x="179.5" y="295.5" width="4.3" height="4.3" fill="#f5c9ee"/><rect x="183.5" y="295.5" width="4.3" height="4.3" fill="#f5cbef"/><rect x="187.5" y="295.5" width="4.3" height="4.3" fill="#f6ceef"/><rect x="191.5" y="295.5" width="4.3" height="4.3" fill="#f6d2f0"/><rect x="195.5" y="295.5" width="4.3" height="4.3" fill="#f7d6f2"/><rect x="31.5" y="299.5" width="4.3" height="4.3" fill="#d0e8ef"/><rect x="35.5" y="299.5" width="4.3" height="4.3" fill="#cfe7ef"/><rect x="39.5" y="299.5" width="4.3" height="4.3" fill="#cee7ef"/><rect x="43.5" y="299.5" width="4.3" height="4.3" fill="#cee6ee"/><rect x="47.5" y="299.5" width="4.3" height="4.3" fill="#cde6ee"/><rect x="51.5" y="299.5" width="4.3" height="4.3" fill="#cde6ee"/><rect x="55.5" y="299.5" width="4.3" height="4.3" fill="#cde6ee"/><rect x="59.5" y="299.5" width="4.3" height="4.3" fill="#cee5ee"/><rect x="63.5" y="299.5" width="4.3" height="4.3" fill="#cfe4ef"/><rect x="67.5" y="299.5" width="4.3" height="4.3" fill="#d0e3ef"/><rect x="71.5" y="299.5" width="4.3" height="4.3" fill="#d3e0f0"/><rect x="75.5" y="299.5" width="4.3" height="4.3" fill="#d5ddf0"/><rect x="79.5" y="299.5" width="4.3" height="4.3" fill="#d7daf1"/><rect x="83.5" y="299.5" width="4.3" height="4.3" fill="#d9d6f1"/><rect x="87.5" y="299.5" width="4.3" height="4.3" fill="#dbd4f2"/><rect x="91.5" y="299.5" width="4.3" height="4.3" fill="#ddd1f2"/><rect x="95.5" y="299.5" width="4.3" height="4.3" fill="#dfcff1"/><rect x="99.5" y="299.5" width="4.3" height="4.3" fill="#e2cef1"/><rect x="103.5" y="299.5" width="4.3" height="4.3" fill="#e6ccf0"/><rect x="107.5" y="299.5" width="4.3" height="4.3" fill="#e9caef"/><rect x="111.5" y="299.5" width="4.3" height="4.3" fill="#edc8ee"/><rect x="115.5" y="299.5" width="4.3" height="4.3" fill="#f0c6ed"/><rect x="119.5" y="299.5" width="4.3" height="4.3" fill="#f2c3ec"/><rect x="123.5" y="299.5" width="4.3" height="4.3" fill="#f3c1ec"/><rect x="127.5" y="299.5" width="4.3" height="4.3" fill="#f3beeb"/><rect x="131.5" y="299.5" width="4.3" height="4.3" fill="#f3bcea"/><rect x="135.5" y="299.5" width="4.3" height="4.3" fill="#f3bbea"/><rect x="139.5" y="299.5" width="4.3" height="4.3" fill="#f3baea"/><rect x="143.5" y="299.5" width="4.3" height="4.3" fill="#f3b9ea"/><rect x="147.5" y="299.5" width="4.3" height="4.3" fill="#f3b8e9"/><rect x="151.5" y="299.5" width="4.3" height="4.3" fill="#f3b8e9"/><rect x="155.5" y="299.5" width="4.3" height="4.3" fill="#f3b9e9"/><rect x="159.5" y="299.5" width="4.3" height="4.3" fill="#f3b9ea"/><rect x="163.5" y="299.5" width="4.3" height="4.3" fill="#f3baea"/><rect x="167.5" y="299.5" width="4.3" height="4.3" fill="#f3bcea"/><rect x="171.5" y="299.5" width="4.3" height="4.3" fill="#f3beeb"/><rect x="175.5" y="299.5" width="4.3" height="4.3" fill="#f4c0ec"/><rect x="179.5" y="299.5" width="4.3" height="4.3" fill="#f4c3ec"/><rect x="183.5" y="299.5" width="4.3" height="4.3" fill="#f5c6ed"/><rect x="187.5" y="299.5" width="4.3" height="4.3" fill="#f5c9ee"/><rect x="191.5" y="299.5" width="4.3" height="4.3" fill="#f6cdef"/><rect x="195.5" y="299.5" width="4.3" height="4.3" fill="#f6d2f0"/><rect x="31.5" y="303.5" width="4.3" height="4.3" fill="#cee6ee"/><rect x="35.5" y="303.5" width="4.3" height="4.3" fill="#cce6ee"/><rect x="39.5" y="303.5" width="4.3" height="4.3" fill="#cbe5ee"/><rect x="43.5" y="303.5" width="4.3" height="4.3" fill="#cae5ed"/><rect x="47.5" y="303.5" width="4.3" height="4.3" fill="#cae5ed"/><rect x="51.5" y="303.5" width="4.3" height="4.3" fill="#cae4ed"/><rect x="55.5" y="303.5" width="4.3" height="4.3" fill="#cae4ed"/><rect x="59.5" y="303.5" width="4.3" height="4.3" fill="#cae4ed"/><rect x="63.5" y="303.5" width="4.3" height="4.3" fill="#cbe3ee"/><rect x="67.5" y="303.5" width="4.3" height="4.3" fill="#cde2ee"/><rect x="71.5" y="303.5" width="4.3" height="4.3" fill="#cfdfef"/><rect x="75.5" y="303.5" width="4.3" height="4.3" fill="#d2dcef"/><rect x="79.5" y="303.5" width="4.3" height="4.3" fill="#d4d8f0"/><rect x="83.5" y="303.5" width="4.3" height="4.3" fill="#d6d5f1"/><rect x="87.5" y="303.5" width="4.3" height="4.3" fill="#d8d2f1"/><rect x="91.5" y="303.5" width="4.3" height="4.3" fill="#dacff1"/><rect x="95.5" y="303.5" width="4.3" height="4.3" fill="#dccdf1"/><rect x="99.5" y="303.5" width="4.3" height="4.3" fill="#dfcbf0"/><rect x="103.5" y="303.5" width="4.3" height="4.3" fill="#e2c9f0"/><rect x="107.5" y="303.5" width="4.3" height="4.3" fill="#e6c7ef"/><rect x="111.5" y="303.5" width="4.3" height="4.3" fill="#ebc5ee"/><rect x="115.5" y="303.5" width="4.3" height="4.3" fill="#eec2ec"/><rect x="119.5" y="303.5" width="4.3" height="4.3" fill="#f0bfeb"/><rect x="123.5" y="303.5" width="4.3" height="4.3" fill="#f1bcea"/><rect x="127.5" y="303.5" width="4.3" height="4.3" fill="#f2b9ea"/><rect x="131.5" y="303.5" width="4.3" height="4.3" fill="#f2b7e9"/><rect x="135.5" y="303.5" width="4.3" height="4.3" fill="#f2b5e8"/><rect x="139.5" y="303.5" width="4.3" height="4.3" fill="#f2b4e8"/><rect x="143.5" y="303.5" width="4.3" height="4.3" fill="#f2b3e8"/><rect x="147.5" y="303.5" width="4.3" height="4.3" fill="#f2b2e8"/><rect x="151.5" y="303.5" width="4.3" height="4.3" fill="#f2b2e8"/><rect x="155.5" y="303.5" width="4.3" height="4.3" fill="#f2b2e8"/><rect x="159.5" y="303.5" width="4.3" height="4.3" fill="#f2b3e8"/><rect x="163.5" y="303.5" width="4.3" height="4.3" fill="#f2b5e8"/><rect x="167.5" y="303.5" width="4.3" height="4.3" fill="#f2b6e9"/><rect x="171.5" y="303.5" width="4.3" height="4.3" fill="#f3b8e9"/><rect x="175.5" y="303.5" width="4.3" height="4.3" fill="#f3bbea"/><rect x="179.5" y="303.5" width="4.3" height="4.3" fill="#f3beeb"/><rect x="183.5" y="303.5" width="4.3" height="4.3" fill="#f4c1ec"/><rect x="187.5" y="303.5" width="4.3" height="4.3" fill="#f4c5ed"/><rect x="191.5" y="303.5" width="4.3" height="4.3" fill="#f5c9ee"/><rect x="195.5" y="303.5" width="4.3" height="4.3" fill="#f6ceef"/><rect x="31.5" y="307.5" width="4.3" height="4.3" fill="#cbe5ee"/><rect x="35.5" y="307.5" width="4.3" height="4.3" fill="#cae5ed"/><rect x="39.5" y="307.5" width="4.3" height="4.3" fill="#c9e4ed"/><rect x="43.5" y="307.5" width="4.3" height="4.3" fill="#c8e4ed"/><rect x="47.5" y="307.5" width="4.3" height="4.3" fill="#c7e3ec"/><rect x="51.5" y="307.5" width="4.3" height="4.3" fill="#c7e3ec"/><rect x="55.5" y="307.5" width="4.3" height="4.3" fill="#c7e3ec"/><rect x="59.5" y="307.5" width="4.3" height="4.3" fill="#c7e2ec"/><rect x="63.5" y="307.5" width="4.3" height="4.3" fill="#c8e2ed"/><rect x="67.5" y="307.5" width="4.3" height="4.3" fill="#cae1ed"/><rect x="71.5" y="307.5" width="4.3" height="4.3" fill="#ccdfee"/><rect x="75.5" y="307.5" width="4.3" height="4.3" fill="#cfdcef"/><rect x="79.5" y="307.5" width="4.3" height="4.3" fill="#d2d8ef"/><rect x="83.5" y="307.5" width="4.3" height="4.3" fill="#d4d4f0"/><rect x="87.5" y="307.5" width="4.3" height="4.3" fill="#d5d0f0"/><rect x="91.5" y="307.5" width="4.3" height="4.3" fill="#d7cdf0"/><rect x="95.5" y="307.5" width="4.3" height="4.3" fill="#d9caf0"/><rect x="99.5" y="307.5" width="4.3" height="4.3" fill="#dcc8f0"/><rect x="103.5" y="307.5" width="4.3" height="4.3" fill="#dfc6ef"/><rect x="107.5" y="307.5" width="4.3" height="4.3" fill="#e3c4ee"/><rect x="111.5" y="307.5" width="4.3" height="4.3" fill="#e8c2ed"/><rect x="115.5" y="307.5" width="4.3" height="4.3" fill="#ecbfec"/><rect x="119.5" y="307.5" width="4.3" height="4.3" fill="#efbbea"/><rect x="123.5" y="307.5" width="4.3" height="4.3" fill="#f0b8e9"/><rect x="127.5" y="307.5" width="4.3" height="4.3" fill="#f1b5e8"/><rect x="131.5" y="307.5" width="4.3" height="4.3" fill="#f1b2e8"/><rect x="135.5" y="307.5" width="4.3" height="4.3" fill="#f1b0e7"/><rect x="139.5" y="307.5" width="4.3" height="4.3" fill="#f1afe7"/><rect x="143.5" y="307.5" width="4.3" height="4.3" fill="#f1aee6"/><rect x="147.5" y="307.5" width="4.3" height="4.3" fill="#f1ade6"/><rect x="151.5" y="307.5" width="4.3" height="4.3" fill="#f1ade6"/><rect x="155.5" y="307.5" width="4.3" height="4.3" fill="#f1ade6"/><rect x="159.5" y="307.5" width="4.3" height="4.3" fill="#f1aee7"/><rect x="163.5" y="307.5" width="4.3" height="4.3" fill="#f2b0e7"/><rect x="167.5" y="307.5" width="4.3" height="4.3" fill="#f2b2e8"/><rect x="171.5" y="307.5" width="4.3" height="4.3" fill="#f2b4e8"/><rect x="175.5" y="307.5" width="4.3" height="4.3" fill="#f2b7e9"/><rect x="179.5" y="307.5" width="4.3" height="4.3" fill="#f3baea"/><rect x="183.5" y="307.5" width="4.3" height="4.3" fill="#f3bdeb"/><rect x="187.5" y="307.5" width="4.3" height="4.3" fill="#f4c1ec"/><rect x="191.5" y="307.5" width="4.3" height="4.3" fill="#f5c6ed"/><rect x="195.5" y="307.5" width="4.3" height="4.3" fill="#f5ccef"/><rect x="31.5" y="311.5" width="4.3" height="4.3" fill="#c9e5ed"/><rect x="35.5" y="311.5" width="4.3" height="4.3" fill="#c8e4ed"/><rect x="39.5" y="311.5" width="4.3" height="4.3" fill="#c7e3ec"/><rect x="43.5" y="311.5" width="4.3" height="4.3" fill="#c6e3ec"/><rect x="47.5" y="311.5" width="4.3" height="4.3" fill="#c5e2ec"/><rect x="51.5" y="311.5" width="4.3" height="4.3" fill="#c4e2ec"/><rect x="55.5" y="311.5" width="4.3" height="4.3" fill="#c4e2ec"/><rect x="59.5" y="311.5" width="4.3" height="4.3" fill="#c5e1ec"/><rect x="63.5" y="311.5" width="4.3" height="4.3" fill="#c6e1ec"/><rect x="67.5" y="311.5" width="4.3" height="4.3" fill="#c8e0ec"/><rect x="71.5" y="311.5" width="4.3" height="4.3" fill="#cadeed"/><rect x="75.5" y="311.5" width="4.3" height="4.3" fill="#cddbee"/><rect x="79.5" y="311.5" width="4.3" height="4.3" fill="#cfd8ef"/><rect x="83.5" y="311.5" width="4.3" height="4.3" fill="#d1d3ef"/><rect x="87.5" y="311.5" width="4.3" height="4.3" fill="#d3cff0"/><rect x="91.5" y="311.5" width="4.3" height="4.3" fill="#d5ccf0"/><rect x="95.5" y="311.5" width="4.3" height="4.3" fill="#d7c9f0"/><rect x="99.5" y="311.5" width="4.3" height="4.3" fill="#d9c6ef"/><rect x="103.5" y="311.5" width="4.3" height="4.3" fill="#dcc4ef"/><rect x="107.5" y="311.5" width="4.3" height="4.3" fill="#e0c2ee"/><rect x="111.5" y="311.5" width="4.3" height="4.3" fill="#e5bfed"/><rect x="115.5" y="311.5" width="4.3" height="4.3" fill="#e9bceb"/><rect x="119.5" y="311.5" width="4.3" height="4.3" fill="#edb8ea"/><rect x="123.5" y="311.5" width="4.3" height="4.3" fill="#efb4e8"/><rect x="127.5" y="311.5" width="4.3" height="4.3" fill="#f0b1e7"/><rect x="131.5" y="311.5" width="4.3" height="4.3" fill="#f1aee7"/><rect x="135.5" y="311.5" width="4.3" height="4.3" fill="#f1ace6"/><rect x="139.5" y="311.5" width="4.3" height="4.3" fill="#f1aae6"/><rect x="143.5" y="311.5" width="4.3" height="4.3" fill="#f0a9e5"/><rect x="147.5" y="311.5" width="4.3" height="4.3" fill="#f0a8e5"/><rect x="151.5" y="311.5" width="4.3" height="4.3" fill="#f0a8e5"/><rect x="155.5" y="311.5" width="4.3" height="4.3" fill="#f1a9e5"/><rect x="159.5" y="311.5" width="4.3" height="4.3" fill="#f1aae5"/><rect x="163.5" y="311.5" width="4.3" height="4.3" fill="#f1abe6"/><rect x="167.5" y="311.5" width="4.3" height="4.3" fill="#f1ade6"/><rect x="171.5" y="311.5" width="4.3" height="4.3" fill="#f2b0e7"/><rect x="175.5" y="311.5" width="4.3" height="4.3" fill="#f2b3e8"/><rect x="179.5" y="311.5" width="4.3" height="4.3" fill="#f2b6e9"/><rect x="183.5" y="311.5" width="4.3" height="4.3" fill="#f3baea"/><rect x="187.5" y="311.5" width="4.3" height="4.3" fill="#f4beeb"/><rect x="191.5" y="311.5" width="4.3" height="4.3" fill="#f4c3ec"/><rect x="195.5" y="311.5" width="4.3" height="4.3" fill="#f5c9ee"/><rect x="31.5" y="315.5" width="4.3" height="4.3" fill="#c8e4ed"/><rect x="35.5" y="315.5" width="4.3" height="4.3" fill="#c6e3ec"/><rect x="39.5" y="315.5" width="4.3" height="4.3" fill="#c5e2ec"/><rect x="43.5" y="315.5" width="4.3" height="4.3" fill="#c4e2eb"/><rect x="47.5" y="315.5" width="4.3" height="4.3" fill="#c3e1eb"/><rect x="51.5" y="315.5" width="4.3" height="4.3" fill="#c2e1eb"/><rect x="55.5" y="315.5" width="4.3" height="4.3" fill="#c2e1eb"/><rect x="59.5" y="315.5" width="4.3" height="4.3" fill="#c3e1eb"/><rect x="63.5" y="315.5" width="4.3" height="4.3" fill="#c4e0eb"/><rect x="67.5" y="315.5" width="4.3" height="4.3" fill="#c5e0ec"/><rect x="71.5" y="315.5" width="4.3" height="4.3" fill="#c8deec"/><rect x="75.5" y="315.5" width="4.3" height="4.3" fill="#cbdbed"/><rect x="79.5" y="315.5" width="4.3" height="4.3" fill="#cdd8ee"/><rect x="83.5" y="315.5" width="4.3" height="4.3" fill="#cfd3ef"/><rect x="87.5" y="315.5" width="4.3" height="4.3" fill="#d1cfef"/><rect x="91.5" y="315.5" width="4.3" height="4.3" fill="#d2caef"/><rect x="95.5" y="315.5" width="4.3" height="4.3" fill="#d4c7ef"/><rect x="99.5" y="315.5" width="4.3" height="4.3" fill="#d6c4ef"/><rect x="103.5" y="315.5" width="4.3" height="4.3" fill="#d9c1ee"/><rect x="107.5" y="315.5" width="4.3" height="4.3" fill="#ddbfed"/><rect x="111.5" y="315.5" width="4.3" height="4.3" fill="#e2bdec"/><rect x="115.5" y="315.5" width="4.3" height="4.3" fill="#e7b9eb"/><rect x="119.5" y="315.5" width="4.3" height="4.3" fill="#ebb6e9"/><rect x="123.5" y="315.5" width="4.3" height="4.3" fill="#eeb2e8"/><rect x="127.5" y="315.5" width="4.3" height="4.3" fill="#efaee7"/><rect x="131.5" y="315.5" width="4.3" height="4.3" fill="#f0abe6"/><rect x="135.5" y="315.5" width="4.3" height="4.3" fill="#f0a8e5"/><rect x="139.5" y="315.5" width="4.3" height="4.3" fill="#f0a6e4"/><rect x="143.5" y="315.5" width="4.3" height="4.3" fill="#f0a5e4"/><rect x="147.5" y="315.5" width="4.3" height="4.3" fill="#f0a4e4"/><rect x="151.5" y="315.5" width="4.3" height="4.3" fill="#f0a4e4"/><rect x="155.5" y="315.5" width="4.3" height="4.3" fill="#f0a5e4"/><rect x="159.5" y="315.5" width="4.3" height="4.3" fill="#f0a6e4"/><rect x="163.5" y="315.5" width="4.3" height="4.3" fill="#f0a7e5"/><rect x="167.5" y="315.5" width="4.3" height="4.3" fill="#f1aae5"/><rect x="171.5" y="315.5" width="4.3" height="4.3" fill="#f1ace6"/><rect x="175.5" y="315.5" width="4.3" height="4.3" fill="#f1afe7"/><rect x="179.5" y="315.5" width="4.3" height="4.3" fill="#f2b3e8"/><rect x="183.5" y="315.5" width="4.3" height="4.3" fill="#f3b7e9"/><rect x="187.5" y="315.5" width="4.3" height="4.3" fill="#f3bcea"/><rect x="191.5" y="315.5" width="4.3" height="4.3" fill="#f4c1ec"/><rect x="195.5" y="315.5" width="4.3" height="4.3" fill="#f5c7ee"/><rect x="31.5" y="319.5" width="4.3" height="4.3" fill="#c6e3ec"/><rect x="35.5" y="319.5" width="4.3" height="4.3" fill="#c5e2ec"/><rect x="39.5" y="319.5" width="4.3" height="4.3" fill="#c3e2eb"/><rect x="43.5" y="319.5" width="4.3" height="4.3" fill="#c2e1eb"/><rect x="47.5" y="319.5" width="4.3" height="4.3" fill="#c1e0eb"/><rect x="51.5" y="319.5" width="4.3" height="4.3" fill="#c0e0ea"/><rect x="55.5" y="319.5" width="4.3" height="4.3" fill="#c0e0ea"/><rect x="59.5" y="319.5" width="4.3" height="4.3" fill="#c1e0ea"/><rect x="63.5" y="319.5" width="4.3" height="4.3" fill="#c2e0eb"/><rect x="67.5" y="319.5" width="4.3" height="4.3" fill="#c3dfeb"/><rect x="71.5" y="319.5" width="4.3" height="4.3" fill="#c6deec"/><rect x="75.5" y="319.5" width="4.3" height="4.3" fill="#c9dbed"/><rect x="79.5" y="319.5" width="4.3" height="4.3" fill="#cbd8ee"/><rect x="83.5" y="319.5" width="4.3" height="4.3" fill="#cdd3ee"/><rect x="87.5" y="319.5" width="4.3" height="4.3" fill="#cfceef"/><rect x="91.5" y="319.5" width="4.3" height="4.3" fill="#d0caef"/><rect x="95.5" y="319.5" width="4.3" height="4.3" fill="#d2c5ef"/><rect x="99.5" y="319.5" width="4.3" height="4.3" fill="#d4c2ee"/><rect x="103.5" y="319.5" width="4.3" height="4.3" fill="#d6bfee"/><rect x="107.5" y="319.5" width="4.3" height="4.3" fill="#dabded"/><rect x="111.5" y="319.5" width="4.3" height="4.3" fill="#dfbaec"/><rect x="115.5" y="319.5" width="4.3" height="4.3" fill="#e4b7ea"/><rect x="119.5" y="319.5" width="4.3" height="4.3" fill="#e9b3e9"/><rect x="123.5" y="319.5" width="4.3" height="4.3" fill="#ecafe7"/><rect x="127.5" y="319.5" width="4.3" height="4.3" fill="#eeabe6"/><rect x="131.5" y="319.5" width="4.3" height="4.3" fill="#efa8e5"/><rect x="135.5" y="319.5" width="4.3" height="4.3" fill="#efa5e4"/><rect x="139.5" y="319.5" width="4.3" height="4.3" fill="#efa3e4"/><rect x="143.5" y="319.5" width="4.3" height="4.3" fill="#efa2e3"/><rect x="147.5" y="319.5" width="4.3" height="4.3" fill="#efa1e3"/><rect x="151.5" y="319.5" width="4.3" height="4.3" fill="#efa1e3"/><rect x="155.5" y="319.5" width="4.3" height="4.3" fill="#efa1e3"/><rect x="159.5" y="319.5" width="4.3" height="4.3" fill="#f0a2e3"/><rect x="163.5" y="319.5" width="4.3" height="4.3" fill="#f0a4e4"/><rect x="167.5" y="319.5" width="4.3" height="4.3" fill="#f0a6e4"/><rect x="171.5" y="319.5" width="4.3" height="4.3" fill="#f1a9e5"/><rect x="175.5" y="319.5" width="4.3" height="4.3" fill="#f1ade6"/><rect x="179.5" y="319.5" width="4.3" height="4.3" fill="#f2b0e7"/><rect x="183.5" y="319.5" width="4.3" height="4.3" fill="#f2b5e8"/><rect x="187.5" y="319.5" width="4.3" height="4.3" fill="#f3baea"/><rect x="191.5" y="319.5" width="4.3" height="4.3" fill="#f4bfeb"/><rect x="195.5" y="319.5" width="4.3" height="4.3" fill="#f5c6ed"/><rect x="31.5" y="323.5" width="4.3" height="4.3" fill="#c5e3ec"/><rect x="35.5" y="323.5" width="4.3" height="4.3" fill="#c3e2eb"/><rect x="39.5" y="323.5" width="4.3" height="4.3" fill="#c2e1eb"/><rect x="43.5" y="323.5" width="4.3" height="4.3" fill="#c0e0ea"/><rect x="47.5" y="323.5" width="4.3" height="4.3" fill="#bfe0ea"/><rect x="51.5" y="323.5" width="4.3" height="4.3" fill="#bfdfea"/><rect x="55.5" y="323.5" width="4.3" height="4.3" fill="#bedfea"/><rect x="59.5" y="323.5" width="4.3" height="4.3" fill="#bfdfea"/><rect x="63.5" y="323.5" width="4.3" height="4.3" fill="#c0dfea"/><rect x="67.5" y="323.5" width="4.3" height="4.3" fill="#c2dfeb"/><rect x="71.5" y="323.5" width="4.3" height="4.3" fill="#c4deeb"/><rect x="75.5" y="323.5" width="4.3" height="4.3" fill="#c7dcec"/><rect x="79.5" y="323.5" width="4.3" height="4.3" fill="#c9d8ed"/><rect x="83.5" y="323.5" width="4.3" height="4.3" fill="#ccd3ee"/><rect x="87.5" y="323.5" width="4.3" height="4.3" fill="#cdceee"/><rect x="91.5" y="323.5" width="4.3" height="4.3" fill="#cec9ef"/><rect x="95.5" y="323.5" width="4.3" height="4.3" fill="#cfc4ee"/><rect x="99.5" y="323.5" width="4.3" height="4.3" fill="#d1c0ee"/><rect x="103.5" y="323.5" width="4.3" height="4.3" fill="#d3bded"/><rect x="107.5" y="323.5" width="4.3" height="4.3" fill="#d7bbed"/><rect x="111.5" y="323.5" width="4.3" height="4.3" fill="#dcb8ec"/><rect x="115.5" y="323.5" width="4.3" height="4.3" fill="#e1b5ea"/><rect x="119.5" y="323.5" width="4.3" height="4.3" fill="#e7b2e8"/><rect x="123.5" y="323.5" width="4.3" height="4.3" fill="#ebade7"/><rect x="127.5" y="323.5" width="4.3" height="4.3" fill="#eda9e5"/><rect x="131.5" y="323.5" width="4.3" height="4.3" fill="#eea5e4"/><rect x="135.5" y="323.5" width="4.3" height="4.3" fill="#efa2e3"/><rect x="139.5" y="323.5" width="4.3" height="4.3" fill="#efa0e3"/><rect x="143.5" y="323.5" width="4.3" height="4.3" fill="#ef9fe2"/><rect x="147.5" y="323.5" width="4.3" height="4.3" fill="#ef9ee2"/><rect x="151.5" y="323.5" width="4.3" height="4.3" fill="#ef9ee2"/><rect x="155.5" y="323.5" width="4.3" height="4.3" fill="#ef9ee2"/><rect x="159.5" y="323.5" width="4.3" height="4.3" fill="#ef9fe3"/><rect x="163.5" y="323.5" width="4.3" height="4.3" fill="#f0a1e3"/><rect x="167.5" y="323.5" width="4.3" height="4.3" fill="#f0a4e4"/><rect x="171.5" y="323.5" width="4.3" height="4.3" fill="#f0a7e5"/><rect x="175.5" y="323.5" width="4.3" height="4.3" fill="#f1aae6"/><rect x="179.5" y="323.5" width="4.3" height="4.3" fill="#f1aee7"/><rect x="183.5" y="323.5" width="4.3" height="4.3" fill="#f2b3e8"/><rect x="187.5" y="323.5" width="4.3" height="4.3" fill="#f3b8e9"/><rect x="191.5" y="323.5" width="4.3" height="4.3" fill="#f3beeb"/><rect x="195.5" y="323.5" width="4.3" height="4.3" fill="#f4c4ed"/><rect x="31.5" y="327.5" width="4.3" height="4.3" fill="#c4e2ec"/><rect x="35.5" y="327.5" width="4.3" height="4.3" fill="#c2e1eb"/><rect x="39.5" y="327.5" width="4.3" height="4.3" fill="#c0e0ea"/><rect x="43.5" y="327.5" width="4.3" height="4.3" fill="#bfe0ea"/><rect x="47.5" y="327.5" width="4.3" height="4.3" fill="#bedfea"/><rect x="51.5" y="327.5" width="4.3" height="4.3" fill="#bddfea"/><rect x="55.5" y="327.5" width="4.3" height="4.3" fill="#bddee9"/><rect x="59.5" y="327.5" width="4.3" height="4.3" fill="#bddeea"/><rect x="63.5" y="327.5" width="4.3" height="4.3" fill="#bedeea"/><rect x="67.5" y="327.5" width="4.3" height="4.3" fill="#c0deea"/><rect x="71.5" y="327.5" width="4.3" height="4.3" fill="#c2deeb"/><rect x="75.5" y="327.5" width="4.3" height="4.3" fill="#c5dcec"/><rect x="79.5" y="327.5" width="4.3" height="4.3" fill="#c8d8ed"/><rect x="83.5" y="327.5" width="4.3" height="4.3" fill="#cad4ed"/><rect x="87.5" y="327.5" width="4.3" height="4.3" fill="#cbceee"/><rect x="91.5" y="327.5" width="4.3" height="4.3" fill="#ccc8ee"/><rect x="95.5" y="327.5" width="4.3" height="4.3" fill="#cdc3ee"/><rect x="99.5" y="327.5" width="4.3" height="4.3" fill="#cebfee"/><rect x="103.5" y="327.5" width="4.3" height="4.3" fill="#d0bbed"/><rect x="107.5" y="327.5" width="4.3" height="4.3" fill="#d4b8ec"/><rect x="111.5" y="327.5" width="4.3" height="4.3" fill="#d9b6eb"/><rect x="115.5" y="327.5" width="4.3" height="4.3" fill="#deb3ea"/><rect x="119.5" y="327.5" width="4.3" height="4.3" fill="#e4b0e8"/><rect x="123.5" y="327.5" width="4.3" height="4.3" fill="#e9ace7"/><rect x="127.5" y="327.5" width="4.3" height="4.3" fill="#eca7e5"/><rect x="131.5" y="327.5" width="4.3" height="4.3" fill="#eea3e4"/><rect x="135.5" y="327.5" width="4.3" height="4.3" fill="#eea0e3"/><rect x="139.5" y="327.5" width="4.3" height="4.3" fill="#ee9ee2"/><rect x="143.5" y="327.5" width="4.3" height="4.3" fill="#ef9ce2"/><rect x="147.5" y="327.5" width="4.3" height="4.3" fill="#ef9be1"/><rect x="151.5" y="327.5" width="4.3" height="4.3" fill="#ef9be1"/><rect x="155.5" y="327.5" width="4.3" height="4.3" fill="#ef9ce2"/><rect x="159.5" y="327.5" width="4.3" height="4.3" fill="#ef9de2"/><rect x="163.5" y="327.5" width="4.3" height="4.3" fill="#ef9fe2"/><rect x="167.5" y="327.5" width="4.3" height="4.3" fill="#f0a1e3"/><rect x="171.5" y="327.5" width="4.3" height="4.3" fill="#f0a4e4"/><rect x="175.5" y="327.5" width="4.3" height="4.3" fill="#f0a8e5"/><rect x="179.5" y="327.5" width="4.3" height="4.3" fill="#f1ace6"/><rect x="183.5" y="327.5" width="4.3" height="4.3" fill="#f2b1e7"/><rect x="187.5" y="327.5" width="4.3" height="4.3" fill="#f2b6e9"/><rect x="191.5" y="327.5" width="4.3" height="4.3" fill="#f3bcea"/><rect x="195.5" y="327.5" width="4.3" height="4.3" fill="#f4c3ec"/><rect x="31.5" y="331.5" width="4.3" height="4.3" fill="#c3e2eb"/><rect x="35.5" y="331.5" width="4.3" height="4.3" fill="#c1e1eb"/><rect x="39.5" y="331.5" width="4.3" height="4.3" fill="#bfe0ea"/><rect x="43.5" y="331.5" width="4.3" height="4.3" fill="#bedfea"/><rect x="47.5" y="331.5" width="4.3" height="4.3" fill="#bcdee9"/><rect x="51.5" y="331.5" width="4.3" height="4.3" fill="#bcdee9"/><rect x="55.5" y="331.5" width="4.3" height="4.3" fill="#bcdee9"/><rect x="59.5" y="331.5" width="4.3" height="4.3" fill="#bcdee9"/><rect x="63.5" y="331.5" width="4.3" height="4.3" fill="#bddee9"/><rect x="67.5" y="331.5" width="4.3" height="4.3" fill="#bedeea"/><rect x="71.5" y="331.5" width="4.3" height="4.3" fill="#c1ddea"/><rect x="75.5" y="331.5" width="4.3" height="4.3" fill="#c3dceb"/><rect x="79.5" y="331.5" width="4.3" height="4.3" fill="#c6d9ec"/><rect x="83.5" y="331.5" width="4.3" height="4.3" fill="#c9d4ed"/><rect x="87.5" y="331.5" width="4.3" height="4.3" fill="#cacfed"/><rect x="91.5" y="331.5" width="4.3" height="4.3" fill="#cbc8ee"/><rect x="95.5" y="331.5" width="4.3" height="4.3" fill="#cbc2ee"/><rect x="99.5" y="331.5" width="4.3" height="4.3" fill="#ccbded"/><rect x="103.5" y="331.5" width="4.3" height="4.3" fill="#ceb9ed"/><rect x="107.5" y="331.5" width="4.3" height="4.3" fill="#d1b6ec"/><rect x="111.5" y="331.5" width="4.3" height="4.3" fill="#d5b4eb"/><rect x="115.5" y="331.5" width="4.3" height="4.3" fill="#dbb2ea"/><rect x="119.5" y="331.5" width="4.3" height="4.3" fill="#e1aee8"/><rect x="123.5" y="331.5" width="4.3" height="4.3" fill="#e7abe6"/><rect x="127.5" y="331.5" width="4.3" height="4.3" fill="#eba6e5"/><rect x="131.5" y="331.5" width="4.3" height="4.3" fill="#eda2e3"/><rect x="135.5" y="331.5" width="4.3" height="4.3" fill="#ee9ee2"/><rect x="139.5" y="331.5" width="4.3" height="4.3" fill="#ee9ce2"/><rect x="143.5" y="331.5" width="4.3" height="4.3" fill="#ee9ae1"/><rect x="147.5" y="331.5" width="4.3" height="4.3" fill="#ee99e1"/><rect x="151.5" y="331.5" width="4.3" height="4.3" fill="#ee99e1"/><rect x="155.5" y="331.5" width="4.3" height="4.3" fill="#ee9ae1"/><rect x="159.5" y="331.5" width="4.3" height="4.3" fill="#ef9be1"/><rect x="163.5" y="331.5" width="4.3" height="4.3" fill="#ef9de2"/><rect x="167.5" y="331.5" width="4.3" height="4.3" fill="#ef9fe3"/><rect x="171.5" y="331.5" width="4.3" height="4.3" fill="#f0a3e3"/><rect x="175.5" y="331.5" width="4.3" height="4.3" fill="#f0a6e4"/><rect x="179.5" y="331.5" width="4.3" height="4.3" fill="#f1abe6"/><rect x="183.5" y="331.5" width="4.3" height="4.3" fill="#f1afe7"/><rect x="187.5" y="331.5" width="4.3" height="4.3" fill="#f2b5e8"/><rect x="191.5" y="331.5" width="4.3" height="4.3" fill="#f3bbea"/><rect x="195.5" y="331.5" width="4.3" height="4.3" fill="#f4c2ec"/><rect x="31.5" y="335.5" width="4.3" height="4.3" fill="#c2e1eb"/><rect x="35.5" y="335.5" width="4.3" height="4.3" fill="#c0e0ea"/><rect x="39.5" y="335.5" width="4.3" height="4.3" fill="#bedfea"/><rect x="43.5" y="335.5" width="4.3" height="4.3" fill="#bddfe9"/><rect x="47.5" y="335.5" width="4.3" height="4.3" fill="#bbdee9"/><rect x="51.5" y="335.5" width="4.3" height="4.3" fill="#bbdee9"/><rect x="55.5" y="335.5" width="4.3" height="4.3" fill="#badde9"/><rect x="59.5" y="335.5" width="4.3" height="4.3" fill="#bbdde9"/><rect x="63.5" y="335.5" width="4.3" height="4.3" fill="#bcdee9"/><rect x="67.5" y="335.5" width="4.3" height="4.3" fill="#bddee9"/><rect x="71.5" y="335.5" width="4.3" height="4.3" fill="#c0ddea"/><rect x="75.5" y="335.5" width="4.3" height="4.3" fill="#c2dceb"/><rect x="79.5" y="335.5" width="4.3" height="4.3" fill="#c5daec"/><rect x="83.5" y="335.5" width="4.3" height="4.3" fill="#c7d5ed"/><rect x="87.5" y="335.5" width="4.3" height="4.3" fill="#c9cfed"/><rect x="91.5" y="335.5" width="4.3" height="4.3" fill="#c9c9ed"/><rect x="95.5" y="335.5" width="4.3" height="4.3" fill="#c9c2ed"/><rect x="99.5" y="335.5" width="4.3" height="4.3" fill="#cabced"/><rect x="103.5" y="335.5" width="4.3" height="4.3" fill="#cbb8ec"/><rect x="107.5" y="335.5" width="4.3" height="4.3" fill="#ceb5ec"/><rect x="111.5" y="335.5" width="4.3" height="4.3" fill="#d2b2eb"/><rect x="115.5" y="335.5" width="4.3" height="4.3" fill="#d8b0ea"/><rect x="119.5" y="335.5" width="4.3" height="4.3" fill="#dfade8"/><rect x="123.5" y="335.5" width="4.3" height="4.3" fill="#e5aae6"/><rect x="127.5" y="335.5" width="4.3" height="4.3" fill="#e9a5e5"/><rect x="131.5" y="335.5" width="4.3" height="4.3" fill="#eca1e3"/><rect x="135.5" y="335.5" width="4.3" height="4.3" fill="#ed9de2"/><rect x="139.5" y="335.5" width="4.3" height="4.3" fill="#ee9be1"/><rect x="143.5" y="335.5" width="4.3" height="4.3" fill="#ee99e1"/><rect x="147.5" y="335.5" width="4.3" height="4.3" fill="#ee98e0"/><rect x="151.5" y="335.5" width="4.3" height="4.3" fill="#ee98e0"/><rect x="155.5" y="335.5" width="4.3" height="4.3" fill="#ee98e1"/><rect x="159.5" y="335.5" width="4.3" height="4.3" fill="#ee99e1"/><rect x="163.5" y="335.5" width="4.3" height="4.3" fill="#ef9be1"/><rect x="167.5" y="335.5" width="4.3" height="4.3" fill="#ef9ee2"/><rect x="171.5" y="335.5" width="4.3" height="4.3" fill="#f0a1e3"/><rect x="175.5" y="335.5" width="4.3" height="4.3" fill="#f0a5e4"/><rect x="179.5" y="335.5" width="4.3" height="4.3" fill="#f1a9e5"/><rect x="183.5" y="335.5" width="4.3" height="4.3" fill="#f1aee7"/><rect x="187.5" y="335.5" width="4.3" height="4.3" fill="#f2b4e8"/><rect x="191.5" y="335.5" width="4.3" height="4.3" fill="#f3baea"/><rect x="195.5" y="335.5" width="4.3" height="4.3" fill="#f4c2ec"/><rect x="31.5" y="339.5" width="4.3" height="4.3" fill="#c2e1eb"/><rect x="35.5" y="339.5" width="4.3" height="4.3" fill="#bfe0ea"/><rect x="39.5" y="339.5" width="4.3" height="4.3" fill="#bedfea"/><rect x="43.5" y="339.5" width="4.3" height="4.3" fill="#bcdee9"/><rect x="47.5" y="339.5" width="4.3" height="4.3" fill="#bbdee9"/><rect x="51.5" y="339.5" width="4.3" height="4.3" fill="#badde9"/><rect x="55.5" y="339.5" width="4.3" height="4.3" fill="#badde9"/><rect x="59.5" y="339.5" width="4.3" height="4.3" fill="#badde9"/><rect x="63.5" y="339.5" width="4.3" height="4.3" fill="#bbdde9"/><rect x="67.5" y="339.5" width="4.3" height="4.3" fill="#bcdde9"/><rect x="71.5" y="339.5" width="4.3" height="4.3" fill="#bfddea"/><rect x="75.5" y="339.5" width="4.3" height="4.3" fill="#c1ddeb"/><rect x="79.5" y="339.5" width="4.3" height="4.3" fill="#c4dbeb"/><rect x="83.5" y="339.5" width="4.3" height="4.3" fill="#c6d6ec"/><rect x="87.5" y="339.5" width="4.3" height="4.3" fill="#c8d0ed"/><rect x="91.5" y="339.5" width="4.3" height="4.3" fill="#c8c9ed"/><rect x="95.5" y="339.5" width="4.3" height="4.3" fill="#c8c2ed"/><rect x="99.5" y="339.5" width="4.3" height="4.3" fill="#c8bced"/><rect x="103.5" y="339.5" width="4.3" height="4.3" fill="#c9b7ec"/><rect x="107.5" y="339.5" width="4.3" height="4.3" fill="#cbb3ec"/><rect x="111.5" y="339.5" width="4.3" height="4.3" fill="#cfb1eb"/><rect x="115.5" y="339.5" width="4.3" height="4.3" fill="#d5afea"/><rect x="119.5" y="339.5" width="4.3" height="4.3" fill="#dcace8"/><rect x="123.5" y="339.5" width="4.3" height="4.3" fill="#e2a9e7"/><rect x="127.5" y="339.5" width="4.3" height="4.3" fill="#e7a5e5"/><rect x="131.5" y="339.5" width="4.3" height="4.3" fill="#eba1e3"/><rect x="135.5" y="339.5" width="4.3" height="4.3" fill="#ed9de2"/><rect x="139.5" y="339.5" width="4.3" height="4.3" fill="#ed9ae1"/><rect x="143.5" y="339.5" width="4.3" height="4.3" fill="#ee98e0"/><rect x="147.5" y="339.5" width="4.3" height="4.3" fill="#ee97e0"/><rect x="151.5" y="339.5" width="4.3" height="4.3" fill="#ee97e0"/><rect x="155.5" y="339.5" width="4.3" height="4.3" fill="#ee97e0"/><rect x="159.5" y="339.5" width="4.3" height="4.3" fill="#ee99e1"/><rect x="163.5" y="339.5" width="4.3" height="4.3" fill="#ef9be1"/><rect x="167.5" y="339.5" width="4.3" height="4.3" fill="#ef9de2"/><rect x="171.5" y="339.5" width="4.3" height="4.3" fill="#efa1e3"/><rect x="175.5" y="339.5" width="4.3" height="4.3" fill="#f0a4e4"/><rect x="179.5" y="339.5" width="4.3" height="4.3" fill="#f1a9e5"/><rect x="183.5" y="339.5" width="4.3" height="4.3" fill="#f1aee7"/><rect x="187.5" y="339.5" width="4.3" height="4.3" fill="#f2b3e8"/><rect x="191.5" y="339.5" width="4.3" height="4.3" fill="#f3baea"/><rect x="195.5" y="339.5" width="4.3" height="4.3" fill="#f4c1ec"/><rect x="31.5" y="343.5" width="4.3" height="4.3" fill="#c1e1eb"/><rect x="35.5" y="343.5" width="4.3" height="4.3" fill="#bfe0ea"/><rect x="39.5" y="343.5" width="4.3" height="4.3" fill="#bddfea"/><rect x="43.5" y="343.5" width="4.3" height="4.3" fill="#bbdee9"/><rect x="47.5" y="343.5" width="4.3" height="4.3" fill="#badde9"/><rect x="51.5" y="343.5" width="4.3" height="4.3" fill="#b9dde9"/><rect x="55.5" y="343.5" width="4.3" height="4.3" fill="#b9dde8"/><rect x="59.5" y="343.5" width="4.3" height="4.3" fill="#badde8"/><rect x="63.5" y="343.5" width="4.3" height="4.3" fill="#badde9"/><rect x="67.5" y="343.5" width="4.3" height="4.3" fill="#bcdde9"/><rect x="71.5" y="343.5" width="4.3" height="4.3" fill="#bedeea"/><rect x="75.5" y="343.5" width="4.3" height="4.3" fill="#c1ddea"/><rect x="79.5" y="343.5" width="4.3" height="4.3" fill="#c3dbeb"/><rect x="83.5" y="343.5" width="4.3" height="4.3" fill="#c6d8ec"/><rect x="87.5" y="343.5" width="4.3" height="4.3" fill="#c7d2ed"/><rect x="91.5" y="343.5" width="4.3" height="4.3" fill="#c7cbed"/><rect x="95.5" y="343.5" width="4.3" height="4.3" fill="#c6c3ed"/><rect x="99.5" y="343.5" width="4.3" height="4.3" fill="#c6bcec"/><rect x="103.5" y="343.5" width="4.3" height="4.3" fill="#c7b6ec"/><rect x="107.5" y="343.5" width="4.3" height="4.3" fill="#c9b2eb"/><rect x="111.5" y="343.5" width="4.3" height="4.3" fill="#cdafeb"/><rect x="115.5" y="343.5" width="4.3" height="4.3" fill="#d2adea"/><rect x="119.5" y="343.5" width="4.3" height="4.3" fill="#d9ace8"/><rect x="123.5" y="343.5" width="4.3" height="4.3" fill="#e0a9e7"/><rect x="127.5" y="343.5" width="4.3" height="4.3" fill="#e6a5e5"/><rect x="131.5" y="343.5" width="4.3" height="4.3" fill="#eaa1e3"/><rect x="135.5" y="343.5" width="4.3" height="4.3" fill="#ec9de2"/><rect x="139.5" y="343.5" width="4.3" height="4.3" fill="#ed9ae1"/><rect x="143.5" y="343.5" width="4.3" height="4.3" fill="#ee98e0"/><rect x="147.5" y="343.5" width="4.3" height="4.3" fill="#ee97e0"/><rect x="151.5" y="343.5" width="4.3" height="4.3" fill="#ee97e0"/><rect x="155.5" y="343.5" width="4.3" height="4.3" fill="#ee97e0"/><rect x="159.5" y="343.5" width="4.3" height="4.3" fill="#ee98e1"/><rect x="163.5" y="343.5" width="4.3" height="4.3" fill="#ef9ae1"/><rect x="167.5" y="343.5" width="4.3" height="4.3" fill="#ef9de2"/><rect x="171.5" y="343.5" width="4.3" height="4.3" fill="#efa0e3"/><rect x="175.5" y="343.5" width="4.3" height="4.3" fill="#f0a4e4"/><rect x="179.5" y="343.5" width="4.3" height="4.3" fill="#f1a9e5"/><rect x="183.5" y="343.5" width="4.3" height="4.3" fill="#f1aee6"/><rect x="187.5" y="343.5" width="4.3" height="4.3" fill="#f2b3e8"/><rect x="191.5" y="343.5" width="4.3" height="4.3" fill="#f3baea"/><rect x="195.5" y="343.5" width="4.3" height="4.3" fill="#f4c1ec"/><rect x="31.5" y="347.5" width="4.3" height="4.3" fill="#c1e1eb"/><rect x="35.5" y="347.5" width="4.3" height="4.3" fill="#bfe0ea"/><rect x="39.5" y="347.5" width="4.3" height="4.3" fill="#bddfea"/><rect x="43.5" y="347.5" width="4.3" height="4.3" fill="#bbdee9"/><rect x="47.5" y="347.5" width="4.3" height="4.3" fill="#badde9"/><rect x="51.5" y="347.5" width="4.3" height="4.3" fill="#b9dde8"/><rect x="55.5" y="347.5" width="4.3" height="4.3" fill="#b9dde8"/><rect x="59.5" y="347.5" width="4.3" height="4.3" fill="#b9dde8"/><rect x="63.5" y="347.5" width="4.3" height="4.3" fill="#badde9"/><rect x="67.5" y="347.5" width="4.3" height="4.3" fill="#bcdde9"/><rect x="71.5" y="347.5" width="4.3" height="4.3" fill="#bedeea"/><rect x="75.5" y="347.5" width="4.3" height="4.3" fill="#c0ddea"/><rect x="79.5" y="347.5" width="4.3" height="4.3" fill="#c3dceb"/><rect x="83.5" y="347.5" width="4.3" height="4.3" fill="#c5d9ec"/><rect x="87.5" y="347.5" width="4.3" height="4.3" fill="#c6d4ec"/><rect x="91.5" y="347.5" width="4.3" height="4.3" fill="#c6cced"/><rect x="95.5" y="347.5" width="4.3" height="4.3" fill="#c6c4ec"/><rect x="99.5" y="347.5" width="4.3" height="4.3" fill="#c5bdec"/><rect x="103.5" y="347.5" width="4.3" height="4.3" fill="#c5b6ec"/><rect x="107.5" y="347.5" width="4.3" height="4.3" fill="#c7b2eb"/><rect x="111.5" y="347.5" width="4.3" height="4.3" fill="#cbafeb"/><rect x="115.5" y="347.5" width="4.3" height="4.3" fill="#d0adea"/><rect x="119.5" y="347.5" width="4.3" height="4.3" fill="#d6abe9"/><rect x="123.5" y="347.5" width="4.3" height="4.3" fill="#dda9e7"/><rect x="127.5" y="347.5" width="4.3" height="4.3" fill="#e4a6e5"/><rect x="131.5" y="347.5" width="4.3" height="4.3" fill="#e9a2e4"/><rect x="135.5" y="347.5" width="4.3" height="4.3" fill="#ec9ee2"/><rect x="139.5" y="347.5" width="4.3" height="4.3" fill="#ed9be1"/><rect x="143.5" y="347.5" width="4.3" height="4.3" fill="#ed99e1"/><rect x="147.5" y="347.5" width="4.3" height="4.3" fill="#ee97e0"/><rect x="151.5" y="347.5" width="4.3" height="4.3" fill="#ee97e0"/><rect x="155.5" y="347.5" width="4.3" height="4.3" fill="#ee97e0"/><rect x="159.5" y="347.5" width="4.3" height="4.3" fill="#ee99e1"/><rect x="163.5" y="347.5" width="4.3" height="4.3" fill="#ef9be1"/><rect x="167.5" y="347.5" width="4.3" height="4.3" fill="#ef9de2"/><rect x="171.5" y="347.5" width="4.3" height="4.3" fill="#efa1e3"/><rect x="175.5" y="347.5" width="4.3" height="4.3" fill="#f0a4e4"/><rect x="179.5" y="347.5" width="4.3" height="4.3" fill="#f1a9e5"/><rect x="183.5" y="347.5" width="4.3" height="4.3" fill="#f1aee7"/><rect x="187.5" y="347.5" width="4.3" height="4.3" fill="#f2b4e8"/><rect x="191.5" y="347.5" width="4.3" height="4.3" fill="#f3baea"/><rect x="195.5" y="347.5" width="4.3" height="4.3" fill="#f4c1ec"/><rect x="31.5" y="351.5" width="4.3" height="4.3" fill="#c2e1eb"/><rect x="35.5" y="351.5" width="4.3" height="4.3" fill="#bfe0ea"/><rect x="39.5" y="351.5" width="4.3" height="4.3" fill="#bddfea"/><rect x="43.5" y="351.5" width="4.3" height="4.3" fill="#bcdee9"/><rect x="47.5" y="351.5" width="4.3" height="4.3" fill="#bbdde9"/><rect x="51.5" y="351.5" width="4.3" height="4.3" fill="#badde9"/><rect x="55.5" y="351.5" width="4.3" height="4.3" fill="#b9dde9"/><rect x="59.5" y="351.5" width="4.3" height="4.3" fill="#badde9"/><rect x="63.5" y="351.5" width="4.3" height="4.3" fill="#badde9"/><rect x="67.5" y="351.5" width="4.3" height="4.3" fill="#bcdee9"/><rect x="71.5" y="351.5" width="4.3" height="4.3" fill="#bedeea"/><rect x="75.5" y="351.5" width="4.3" height="4.3" fill="#c0deea"/><rect x="79.5" y="351.5" width="4.3" height="4.3" fill="#c3ddeb"/><rect x="83.5" y="351.5" width="4.3" height="4.3" fill="#c5daec"/><rect x="87.5" y="351.5" width="4.3" height="4.3" fill="#c6d5ec"/><rect x="91.5" y="351.5" width="4.3" height="4.3" fill="#c6ceed"/><rect x="95.5" y="351.5" width="4.3" height="4.3" fill="#c5c6ec"/><rect x="99.5" y="351.5" width="4.3" height="4.3" fill="#c5beec"/><rect x="103.5" y="351.5" width="4.3" height="4.3" fill="#c4b7ec"/><rect x="107.5" y="351.5" width="4.3" height="4.3" fill="#c6b2eb"/><rect x="111.5" y="351.5" width="4.3" height="4.3" fill="#c9afeb"/><rect x="115.5" y="351.5" width="4.3" height="4.3" fill="#ceadea"/><rect x="119.5" y="351.5" width="4.3" height="4.3" fill="#d4abe9"/><rect x="123.5" y="351.5" width="4.3" height="4.3" fill="#dba9e8"/><rect x="127.5" y="351.5" width="4.3" height="4.3" fill="#e2a7e6"/><rect x="131.5" y="351.5" width="4.3" height="4.3" fill="#e7a3e4"/><rect x="135.5" y="351.5" width="4.3" height="4.3" fill="#eb9fe3"/><rect x="139.5" y="351.5" width="4.3" height="4.3" fill="#ed9ce2"/><rect x="143.5" y="351.5" width="4.3" height="4.3" fill="#ed9ae1"/><rect x="147.5" y="351.5" width="4.3" height="4.3" fill="#ee98e1"/><rect x="151.5" y="351.5" width="4.3" height="4.3" fill="#ee98e1"/><rect x="155.5" y="351.5" width="4.3" height="4.3" fill="#ee99e1"/><rect x="159.5" y="351.5" width="4.3" height="4.3" fill="#ee9ae1"/><rect x="163.5" y="351.5" width="4.3" height="4.3" fill="#ef9ce2"/><rect x="167.5" y="351.5" width="4.3" height="4.3" fill="#ef9ee2"/><rect x="171.5" y="351.5" width="4.3" height="4.3" fill="#f0a2e3"/><rect x="175.5" y="351.5" width="4.3" height="4.3" fill="#f0a5e4"/><rect x="179.5" y="351.5" width="4.3" height="4.3" fill="#f1aae5"/><rect x="183.5" y="351.5" width="4.3" height="4.3" fill="#f1afe7"/><rect x="187.5" y="351.5" width="4.3" height="4.3" fill="#f2b4e8"/><rect x="191.5" y="351.5" width="4.3" height="4.3" fill="#f3baea"/><rect x="195.5" y="351.5" width="4.3" height="4.3" fill="#f4c2ec"/><rect x="31.5" y="355.5" width="4.3" height="4.3" fill="#c2e1eb"/><rect x="35.5" y="355.5" width="4.3" height="4.3" fill="#c0e0eb"/><rect x="39.5" y="355.5" width="4.3" height="4.3" fill="#bedfea"/><rect x="43.5" y="355.5" width="4.3" height="4.3" fill="#bddeea"/><rect x="47.5" y="355.5" width="4.3" height="4.3" fill="#bbdee9"/><rect x="51.5" y="355.5" width="4.3" height="4.3" fill="#bbdde9"/><rect x="55.5" y="355.5" width="4.3" height="4.3" fill="#badde9"/><rect x="59.5" y="355.5" width="4.3" height="4.3" fill="#badde9"/><rect x="63.5" y="355.5" width="4.3" height="4.3" fill="#bbdde9"/><rect x="67.5" y="355.5" width="4.3" height="4.3" fill="#bcdee9"/><rect x="71.5" y="355.5" width="4.3" height="4.3" fill="#bedeea"/><rect x="75.5" y="355.5" width="4.3" height="4.3" fill="#c0deea"/><rect x="79.5" y="355.5" width="4.3" height="4.3" fill="#c3deeb"/><rect x="83.5" y="355.5" width="4.3" height="4.3" fill="#c5dcec"/><rect x="87.5" y="355.5" width="4.3" height="4.3" fill="#c6d7ec"/><rect x="91.5" y="355.5" width="4.3" height="4.3" fill="#c7d1ed"/><rect x="95.5" y="355.5" width="4.3" height="4.3" fill="#c6c8ec"/><rect x="99.5" y="355.5" width="4.3" height="4.3" fill="#c4c0ec"/><rect x="103.5" y="355.5" width="4.3" height="4.3" fill="#c4b8ec"/><rect x="107.5" y="355.5" width="4.3" height="4.3" fill="#c5b3eb"/><rect x="111.5" y="355.5" width="4.3" height="4.3" fill="#c7afeb"/><rect x="115.5" y="355.5" width="4.3" height="4.3" fill="#ccadea"/><rect x="119.5" y="355.5" width="4.3" height="4.3" fill="#d2ace9"/><rect x="123.5" y="355.5" width="4.3" height="4.3" fill="#d9aae8"/><rect x="127.5" y="355.5" width="4.3" height="4.3" fill="#e0a8e6"/><rect x="131.5" y="355.5" width="4.3" height="4.3" fill="#e6a5e5"/><rect x="135.5" y="355.5" width="4.3" height="4.3" fill="#eaa1e3"/><rect x="139.5" y="355.5" width="4.3" height="4.3" fill="#ec9ee2"/><rect x="143.5" y="355.5" width="4.3" height="4.3" fill="#ed9be1"/><rect x="147.5" y="355.5" width="4.3" height="4.3" fill="#ee9ae1"/><rect x="151.5" y="355.5" width="4.3" height="4.3" fill="#ee9ae1"/><rect x="155.5" y="355.5" width="4.3" height="4.3" fill="#ee9ae1"/><rect x="159.5" y="355.5" width="4.3" height="4.3" fill="#ef9be1"/><rect x="163.5" y="355.5" width="4.3" height="4.3" fill="#ef9de2"/><rect x="167.5" y="355.5" width="4.3" height="4.3" fill="#efa0e3"/><rect x="171.5" y="355.5" width="4.3" height="4.3" fill="#f0a3e4"/><rect x="175.5" y="355.5" width="4.3" height="4.3" fill="#f0a7e5"/><rect x="179.5" y="355.5" width="4.3" height="4.3" fill="#f1abe6"/><rect x="183.5" y="355.5" width="4.3" height="4.3" fill="#f2b0e7"/><rect x="187.5" y="355.5" width="4.3" height="4.3" fill="#f2b5e9"/><rect x="191.5" y="355.5" width="4.3" height="4.3" fill="#f3bbea"/><rect x="195.5" y="355.5" width="4.3" height="4.3" fill="#f4c2ec"/><rect x="31.5" y="359.5" width="4.3" height="4.3" fill="#c4e1ec"/><rect x="35.5" y="359.5" width="4.3" height="4.3" fill="#c2e0eb"/><rect x="39.5" y="359.5" width="4.3" height="4.3" fill="#c0dfeb"/><rect x="43.5" y="359.5" width="4.3" height="4.3" fill="#bedfea"/><rect x="47.5" y="359.5" width="4.3" height="4.3" fill="#bddeea"/><rect x="51.5" y="359.5" width="4.3" height="4.3" fill="#bcdee9"/><rect x="55.5" y="359.5" width="4.3" height="4.3" fill="#bbdee9"/><rect x="59.5" y="359.5" width="4.3" height="4.3" fill="#bbdee9"/><rect x="63.5" y="359.5" width="4.3" height="4.3" fill="#bcdee9"/><rect x="67.5" y="359.5" width="4.3" height="4.3" fill="#bddeea"/><rect x="71.5" y="359.5" width="4.3" height="4.3" fill="#bfdfea"/><rect x="75.5" y="359.5" width="4.3" height="4.3" fill="#c1dfea"/><rect x="79.5" y="359.5" width="4.3" height="4.3" fill="#c3dfeb"/><rect x="83.5" y="359.5" width="4.3" height="4.3" fill="#c5ddec"/><rect x="87.5" y="359.5" width="4.3" height="4.3" fill="#c7d9ec"/><rect x="91.5" y="359.5" width="4.3" height="4.3" fill="#c7d3ed"/><rect x="95.5" y="359.5" width="4.3" height="4.3" fill="#c6cbed"/><rect x="99.5" y="359.5" width="4.3" height="4.3" fill="#c5c2ec"/><rect x="103.5" y="359.5" width="4.3" height="4.3" fill="#c4bbec"/><rect x="107.5" y="359.5" width="4.3" height="4.3" fill="#c5b4eb"/><rect x="111.5" y="359.5" width="4.3" height="4.3" fill="#c7b0eb"/><rect x="115.5" y="359.5" width="4.3" height="4.3" fill="#cbaeea"/><rect x="119.5" y="359.5" width="4.3" height="4.3" fill="#d0adea"/><rect x="123.5" y="359.5" width="4.3" height="4.3" fill="#d7abe9"/><rect x="127.5" y="359.5" width="4.3" height="4.3" fill="#dfaae7"/><rect x="131.5" y="359.5" width="4.3" height="4.3" fill="#e5a7e6"/><rect x="135.5" y="359.5" width="4.3" height="4.3" fill="#eaa3e4"/><rect x="139.5" y="359.5" width="4.3" height="4.3" fill="#eca0e3"/><rect x="143.5" y="359.5" width="4.3" height="4.3" fill="#ee9ee2"/><rect x="147.5" y="359.5" width="4.3" height="4.3" fill="#ee9ce2"/><rect x="151.5" y="359.5" width="4.3" height="4.3" fill="#ee9ce2"/><rect x="155.5" y="359.5" width="4.3" height="4.3" fill="#ef9ce2"/><rect x="159.5" y="359.5" width="4.3" height="4.3" fill="#ef9de2"/><rect x="163.5" y="359.5" width="4.3" height="4.3" fill="#ef9fe3"/><rect x="167.5" y="359.5" width="4.3" height="4.3" fill="#f0a2e3"/><rect x="171.5" y="359.5" width="4.3" height="4.3" fill="#f0a5e4"/><rect x="175.5" y="359.5" width="4.3" height="4.3" fill="#f1a8e5"/><rect x="179.5" y="359.5" width="4.3" height="4.3" fill="#f1ace6"/><rect x="183.5" y="359.5" width="4.3" height="4.3" fill="#f2b1e7"/><rect x="187.5" y="359.5" width="4.3" height="4.3" fill="#f2b6e9"/><rect x="191.5" y="359.5" width="4.3" height="4.3" fill="#f3bceb"/><rect x="195.5" y="359.5" width="4.3" height="4.3" fill="#f4c3ec"/><rect x="31.5" y="363.5" width="4.3" height="4.3" fill="#c5e2ec"/><rect x="35.5" y="363.5" width="4.3" height="4.3" fill="#c4e1ec"/><rect x="39.5" y="363.5" width="4.3" height="4.3" fill="#c2e0eb"/><rect x="43.5" y="363.5" width="4.3" height="4.3" fill="#c0dfeb"/><rect x="47.5" y="363.5" width="4.3" height="4.3" fill="#bfdfea"/><rect x="51.5" y="363.5" width="4.3" height="4.3" fill="#bedeea"/><rect x="55.5" y="363.5" width="4.3" height="4.3" fill="#bddeea"/><rect x="59.5" y="363.5" width="4.3" height="4.3" fill="#bddeea"/><rect x="63.5" y="363.5" width="4.3" height="4.3" fill="#bddeea"/><rect x="67.5" y="363.5" width="4.3" height="4.3" fill="#bedfea"/><rect x="71.5" y="363.5" width="4.3" height="4.3" fill="#c0dfea"/><rect x="75.5" y="363.5" width="4.3" height="4.3" fill="#c1dfeb"/><rect x="79.5" y="363.5" width="4.3" height="4.3" fill="#c3dfeb"/><rect x="83.5" y="363.5" width="4.3" height="4.3" fill="#c6deec"/><rect x="87.5" y="363.5" width="4.3" height="4.3" fill="#c7dbec"/><rect x="91.5" y="363.5" width="4.3" height="4.3" fill="#c8d6ed"/><rect x="95.5" y="363.5" width="4.3" height="4.3" fill="#c7ceed"/><rect x="99.5" y="363.5" width="4.3" height="4.3" fill="#c6c5ec"/><rect x="103.5" y="363.5" width="4.3" height="4.3" fill="#c5bdec"/><rect x="107.5" y="363.5" width="4.3" height="4.3" fill="#c5b7ec"/><rect x="111.5" y="363.5" width="4.3" height="4.3" fill="#c6b2eb"/><rect x="115.5" y="363.5" width="4.3" height="4.3" fill="#caafeb"/><rect x="119.5" y="363.5" width="4.3" height="4.3" fill="#cfaeea"/><rect x="123.5" y="363.5" width="4.3" height="4.3" fill="#d6ade9"/><rect x="127.5" y="363.5" width="4.3" height="4.3" fill="#ddace8"/><rect x="131.5" y="363.5" width="4.3" height="4.3" fill="#e4a9e6"/><rect x="135.5" y="363.5" width="4.3" height="4.3" fill="#e9a6e5"/><rect x="139.5" y="363.5" width="4.3" height="4.3" fill="#eca3e4"/><rect x="143.5" y="363.5" width="4.3" height="4.3" fill="#eea1e3"/><rect x="147.5" y="363.5" width="4.3" height="4.3" fill="#ee9fe2"/><rect x="151.5" y="363.5" width="4.3" height="4.3" fill="#ef9fe2"/><rect x="155.5" y="363.5" width="4.3" height="4.3" fill="#ef9fe2"/><rect x="159.5" y="363.5" width="4.3" height="4.3" fill="#efa0e3"/><rect x="163.5" y="363.5" width="4.3" height="4.3" fill="#f0a2e3"/><rect x="167.5" y="363.5" width="4.3" height="4.3" fill="#f0a4e4"/><rect x="171.5" y="363.5" width="4.3" height="4.3" fill="#f0a7e5"/><rect x="175.5" y="363.5" width="4.3" height="4.3" fill="#f1aae6"/><rect x="179.5" y="363.5" width="4.3" height="4.3" fill="#f1aee7"/><rect x="183.5" y="363.5" width="4.3" height="4.3" fill="#f2b3e8"/><rect x="187.5" y="363.5" width="4.3" height="4.3" fill="#f3b8e9"/><rect x="191.5" y="363.5" width="4.3" height="4.3" fill="#f3beeb"/><rect x="195.5" y="363.5" width="4.3" height="4.3" fill="#f4c5ed"/><rect x="31.5" y="367.5" width="4.3" height="4.3" fill="#c8e2ed"/><rect x="35.5" y="367.5" width="4.3" height="4.3" fill="#c6e1ed"/><rect x="39.5" y="367.5" width="4.3" height="4.3" fill="#c5e1ec"/><rect x="43.5" y="367.5" width="4.3" height="4.3" fill="#c3e0ec"/><rect x="47.5" y="367.5" width="4.3" height="4.3" fill="#c2e0eb"/><rect x="51.5" y="367.5" width="4.3" height="4.3" fill="#c1dfeb"/><rect x="55.5" y="367.5" width="4.3" height="4.3" fill="#c0dfeb"/><rect x="59.5" y="367.5" width="4.3" height="4.3" fill="#c0dfeb"/><rect x="63.5" y="367.5" width="4.3" height="4.3" fill="#bfdfea"/><rect x="67.5" y="367.5" width="4.3" height="4.3" fill="#c0dfea"/><rect x="71.5" y="367.5" width="4.3" height="4.3" fill="#c1e0eb"/><rect x="75.5" y="367.5" width="4.3" height="4.3" fill="#c2e0eb"/><rect x="79.5" y="367.5" width="4.3" height="4.3" fill="#c4e0eb"/><rect x="83.5" y="367.5" width="4.3" height="4.3" fill="#c6dfec"/><rect x="87.5" y="367.5" width="4.3" height="4.3" fill="#c8dded"/><rect x="91.5" y="367.5" width="4.3" height="4.3" fill="#c8d8ed"/><rect x="95.5" y="367.5" width="4.3" height="4.3" fill="#c8d1ed"/><rect x="99.5" y="367.5" width="4.3" height="4.3" fill="#c7c9ed"/><rect x="103.5" y="367.5" width="4.3" height="4.3" fill="#c5c0ec"/><rect x="107.5" y="367.5" width="4.3" height="4.3" fill="#c5b9ec"/><rect x="111.5" y="367.5" width="4.3" height="4.3" fill="#c7b5ec"/><rect x="115.5" y="367.5" width="4.3" height="4.3" fill="#cab1eb"/><rect x="119.5" y="367.5" width="4.3" height="4.3" fill="#cfb0eb"/><rect x="123.5" y="367.5" width="4.3" height="4.3" fill="#d5afea"/><rect x="127.5" y="367.5" width="4.3" height="4.3" fill="#dcaee9"/><rect x="131.5" y="367.5" width="4.3" height="4.3" fill="#e3ace7"/><rect x="135.5" y="367.5" width="4.3" height="4.3" fill="#e8a9e6"/><rect x="139.5" y="367.5" width="4.3" height="4.3" fill="#eca6e5"/><rect x="143.5" y="367.5" width="4.3" height="4.3" fill="#eea4e4"/><rect x="147.5" y="367.5" width="4.3" height="4.3" fill="#efa2e3"/><rect x="151.5" y="367.5" width="4.3" height="4.3" fill="#efa2e3"/><rect x="155.5" y="367.5" width="4.3" height="4.3" fill="#efa2e3"/><rect x="159.5" y="367.5" width="4.3" height="4.3" fill="#f0a3e4"/><rect x="163.5" y="367.5" width="4.3" height="4.3" fill="#f0a5e4"/><rect x="167.5" y="367.5" width="4.3" height="4.3" fill="#f0a7e5"/><rect x="171.5" y="367.5" width="4.3" height="4.3" fill="#f1aae5"/><rect x="175.5" y="367.5" width="4.3" height="4.3" fill="#f1ade6"/><rect x="179.5" y="367.5" width="4.3" height="4.3" fill="#f2b1e7"/><rect x="183.5" y="367.5" width="4.3" height="4.3" fill="#f2b5e9"/><rect x="187.5" y="367.5" width="4.3" height="4.3" fill="#f3baea"/><rect x="191.5" y="367.5" width="4.3" height="4.3" fill="#f4bfeb"/><rect x="195.5" y="367.5" width="4.3" height="4.3" fill="#f5c6ed"/><rect x="31.5" y="371.5" width="4.3" height="4.3" fill="#cbe3ee"/><rect x="35.5" y="371.5" width="4.3" height="4.3" fill="#cae2ee"/><rect x="39.5" y="371.5" width="4.3" height="4.3" fill="#c8e2ed"/><rect x="43.5" y="371.5" width="4.3" height="4.3" fill="#c7e1ed"/><rect x="47.5" y="371.5" width="4.3" height="4.3" fill="#c6e0ed"/><rect x="51.5" y="371.5" width="4.3" height="4.3" fill="#c4e0ec"/><rect x="55.5" y="371.5" width="4.3" height="4.3" fill="#c3e0ec"/><rect x="59.5" y="371.5" width="4.3" height="4.3" fill="#c2e0ec"/><rect x="63.5" y="371.5" width="4.3" height="4.3" fill="#c2e0eb"/><rect x="67.5" y="371.5" width="4.3" height="4.3" fill="#c2e0eb"/><rect x="71.5" y="371.5" width="4.3" height="4.3" fill="#c2e0eb"/><rect x="75.5" y="371.5" width="4.3" height="4.3" fill="#c3e0eb"/><rect x="79.5" y="371.5" width="4.3" height="4.3" fill="#c5e1ec"/><rect x="83.5" y="371.5" width="4.3" height="4.3" fill="#c6e0ec"/><rect x="87.5" y="371.5" width="4.3" height="4.3" fill="#c8deed"/><rect x="91.5" y="371.5" width="4.3" height="4.3" fill="#c9daed"/><rect x="95.5" y="371.5" width="4.3" height="4.3" fill="#c9d4ed"/><rect x="99.5" y="371.5" width="4.3" height="4.3" fill="#c8cced"/><rect x="103.5" y="371.5" width="4.3" height="4.3" fill="#c7c4ed"/><rect x="107.5" y="371.5" width="4.3" height="4.3" fill="#c6bdec"/><rect x="111.5" y="371.5" width="4.3" height="4.3" fill="#c7b7ec"/><rect x="115.5" y="371.5" width="4.3" height="4.3" fill="#cab4ec"/><rect x="119.5" y="371.5" width="4.3" height="4.3" fill="#ceb2eb"/><rect x="123.5" y="371.5" width="4.3" height="4.3" fill="#d4b1eb"/><rect x="127.5" y="371.5" width="4.3" height="4.3" fill="#dbb1ea"/><rect x="131.5" y="371.5" width="4.3" height="4.3" fill="#e2afe8"/><rect x="135.5" y="371.5" width="4.3" height="4.3" fill="#e7ade7"/><rect x="139.5" y="371.5" width="4.3" height="4.3" fill="#ebaae6"/><rect x="143.5" y="371.5" width="4.3" height="4.3" fill="#eea8e5"/><rect x="147.5" y="371.5" width="4.3" height="4.3" fill="#efa6e4"/><rect x="151.5" y="371.5" width="4.3" height="4.3" fill="#efa5e4"/><rect x="155.5" y="371.5" width="4.3" height="4.3" fill="#f0a6e4"/><rect x="159.5" y="371.5" width="4.3" height="4.3" fill="#f0a7e5"/><rect x="163.5" y="371.5" width="4.3" height="4.3" fill="#f0a8e5"/><rect x="167.5" y="371.5" width="4.3" height="4.3" fill="#f1aae6"/><rect x="171.5" y="371.5" width="4.3" height="4.3" fill="#f1ade6"/><rect x="175.5" y="371.5" width="4.3" height="4.3" fill="#f2b0e7"/><rect x="179.5" y="371.5" width="4.3" height="4.3" fill="#f2b3e8"/><rect x="183.5" y="371.5" width="4.3" height="4.3" fill="#f3b7e9"/><rect x="187.5" y="371.5" width="4.3" height="4.3" fill="#f3bcea"/><rect x="191.5" y="371.5" width="4.3" height="4.3" fill="#f4c1ec"/><rect x="195.5" y="371.5" width="4.3" height="4.3" fill="#f5c8ee"/><rect x="31.5" y="375.5" width="4.3" height="4.3" fill="#cee4ef"/><rect x="35.5" y="375.5" width="4.3" height="4.3" fill="#cde3ef"/><rect x="39.5" y="375.5" width="4.3" height="4.3" fill="#cce2ef"/><rect x="43.5" y="375.5" width="4.3" height="4.3" fill="#cbe2ee"/><rect x="47.5" y="375.5" width="4.3" height="4.3" fill="#cae1ee"/><rect x="51.5" y="375.5" width="4.3" height="4.3" fill="#c8e1ee"/><rect x="55.5" y="375.5" width="4.3" height="4.3" fill="#c7e1ed"/><rect x="59.5" y="375.5" width="4.3" height="4.3" fill="#c6e0ed"/><rect x="63.5" y="375.5" width="4.3" height="4.3" fill="#c5e0ec"/><rect x="67.5" y="375.5" width="4.3" height="4.3" fill="#c4e0ec"/><rect x="71.5" y="375.5" width="4.3" height="4.3" fill="#c4e1ec"/><rect x="75.5" y="375.5" width="4.3" height="4.3" fill="#c4e1ec"/><rect x="79.5" y="375.5" width="4.3" height="4.3" fill="#c5e1ec"/><rect x="83.5" y="375.5" width="4.3" height="4.3" fill="#c7e1ec"/><rect x="87.5" y="375.5" width="4.3" height="4.3" fill="#c8dfed"/><rect x="91.5" y="375.5" width="4.3" height="4.3" fill="#c9dced"/><rect x="95.5" y="375.5" width="4.3" height="4.3" fill="#c9d7ed"/><rect x="99.5" y="375.5" width="4.3" height="4.3" fill="#c9cfed"/><rect x="103.5" y="375.5" width="4.3" height="4.3" fill="#c8c7ed"/><rect x="107.5" y="375.5" width="4.3" height="4.3" fill="#c7c0ed"/><rect x="111.5" y="375.5" width="4.3" height="4.3" fill="#c8bbec"/><rect x="115.5" y="375.5" width="4.3" height="4.3" fill="#cbb7ec"/><rect x="119.5" y="375.5" width="4.3" height="4.3" fill="#cfb5ec"/><rect x="123.5" y="375.5" width="4.3" height="4.3" fill="#d4b4eb"/><rect x="127.5" y="375.5" width="4.3" height="4.3" fill="#dab3ea"/><rect x="131.5" y="375.5" width="4.3" height="4.3" fill="#e1b2e9"/><rect x="135.5" y="375.5" width="4.3" height="4.3" fill="#e7b0e8"/><rect x="139.5" y="375.5" width="4.3" height="4.3" fill="#ebaee7"/><rect x="143.5" y="375.5" width="4.3" height="4.3" fill="#eeabe6"/><rect x="147.5" y="375.5" width="4.3" height="4.3" fill="#efaae5"/><rect x="151.5" y="375.5" width="4.3" height="4.3" fill="#f0a9e5"/><rect x="155.5" y="375.5" width="4.3" height="4.3" fill="#f0a9e5"/><rect x="159.5" y="375.5" width="4.3" height="4.3" fill="#f1aae6"/><rect x="163.5" y="375.5" width="4.3" height="4.3" fill="#f1ace6"/><rect x="167.5" y="375.5" width="4.3" height="4.3" fill="#f1aee6"/><rect x="171.5" y="375.5" width="4.3" height="4.3" fill="#f2b0e7"/><rect x="175.5" y="375.5" width="4.3" height="4.3" fill="#f2b3e8"/><rect x="179.5" y="375.5" width="4.3" height="4.3" fill="#f2b6e9"/><rect x="183.5" y="375.5" width="4.3" height="4.3" fill="#f3baea"/><rect x="187.5" y="375.5" width="4.3" height="4.3" fill="#f4beeb"/><rect x="191.5" y="375.5" width="4.3" height="4.3" fill="#f4c3ec"/><rect x="195.5" y="375.5" width="4.3" height="4.3" fill="#f5c9ee"/><rect x="31.5" y="379.5" width="4.3" height="4.3" fill="#d2e4f1"/><rect x="35.5" y="379.5" width="4.3" height="4.3" fill="#d1e4f0"/><rect x="39.5" y="379.5" width="4.3" height="4.3" fill="#d0e3f0"/><rect x="43.5" y="379.5" width="4.3" height="4.3" fill="#cfe3f0"/><rect x="47.5" y="379.5" width="4.3" height="4.3" fill="#cde2ef"/><rect x="51.5" y="379.5" width="4.3" height="4.3" fill="#cce2ef"/><rect x="55.5" y="379.5" width="4.3" height="4.3" fill="#cae2ee"/><rect x="59.5" y="379.5" width="4.3" height="4.3" fill="#c9e1ee"/><rect x="63.5" y="379.5" width="4.3" height="4.3" fill="#c8e1ed"/><rect x="67.5" y="379.5" width="4.3" height="4.3" fill="#c6e1ed"/><rect x="71.5" y="379.5" width="4.3" height="4.3" fill="#c6e1ec"/><rect x="75.5" y="379.5" width="4.3" height="4.3" fill="#c6e1ec"/><rect x="79.5" y="379.5" width="4.3" height="4.3" fill="#c6e1ec"/><rect x="83.5" y="379.5" width="4.3" height="4.3" fill="#c7e1ec"/><rect x="87.5" y="379.5" width="4.3" height="4.3" fill="#c8e0ed"/><rect x="91.5" y="379.5" width="4.3" height="4.3" fill="#c9dded"/><rect x="95.5" y="379.5" width="4.3" height="4.3" fill="#c9d9ed"/><rect x="99.5" y="379.5" width="4.3" height="4.3" fill="#c9d2ed"/><rect x="103.5" y="379.5" width="4.3" height="4.3" fill="#c9cbed"/><rect x="107.5" y="379.5" width="4.3" height="4.3" fill="#c9c4ed"/><rect x="111.5" y="379.5" width="4.3" height="4.3" fill="#c9beed"/><rect x="115.5" y="379.5" width="4.3" height="4.3" fill="#ccbaed"/><rect x="119.5" y="379.5" width="4.3" height="4.3" fill="#cfb8ec"/><rect x="123.5" y="379.5" width="4.3" height="4.3" fill="#d4b7ec"/><rect x="127.5" y="379.5" width="4.3" height="4.3" fill="#dab6eb"/><rect x="131.5" y="379.5" width="4.3" height="4.3" fill="#e0b6ea"/><rect x="135.5" y="379.5" width="4.3" height="4.3" fill="#e6b4e9"/><rect x="139.5" y="379.5" width="4.3" height="4.3" fill="#ebb2e8"/><rect x="143.5" y="379.5" width="4.3" height="4.3" fill="#eeb0e7"/><rect x="147.5" y="379.5" width="4.3" height="4.3" fill="#f0aee7"/><rect x="151.5" y="379.5" width="4.3" height="4.3" fill="#f0aee6"/><rect x="155.5" y="379.5" width="4.3" height="4.3" fill="#f1aee6"/><rect x="159.5" y="379.5" width="4.3" height="4.3" fill="#f1aee7"/><rect x="163.5" y="379.5" width="4.3" height="4.3" fill="#f1b0e7"/><rect x="167.5" y="379.5" width="4.3" height="4.3" fill="#f2b1e7"/><rect x="171.5" y="379.5" width="4.3" height="4.3" fill="#f2b4e8"/><rect x="175.5" y="379.5" width="4.3" height="4.3" fill="#f2b6e9"/><rect x="179.5" y="379.5" width="4.3" height="4.3" fill="#f3b9ea"/><rect x="183.5" y="379.5" width="4.3" height="4.3" fill="#f3bdeb"/><rect x="187.5" y="379.5" width="4.3" height="4.3" fill="#f4c1ec"/><rect x="191.5" y="379.5" width="4.3" height="4.3" fill="#f5c6ed"/><rect x="195.5" y="379.5" width="4.3" height="4.3" fill="#f5cbef"/><rect x="31.5" y="383.5" width="4.3" height="4.3" fill="#d5e5f2"/><rect x="35.5" y="383.5" width="4.3" height="4.3" fill="#d4e5f1"/><rect x="39.5" y="383.5" width="4.3" height="4.3" fill="#d3e4f1"/><rect x="43.5" y="383.5" width="4.3" height="4.3" fill="#d2e4f1"/><rect x="47.5" y="383.5" width="4.3" height="4.3" fill="#d1e3f1"/><rect x="51.5" y="383.5" width="4.3" height="4.3" fill="#d0e3f0"/><rect x="55.5" y="383.5" width="4.3" height="4.3" fill="#cee3f0"/><rect x="59.5" y="383.5" width="4.3" height="4.3" fill="#cce2ef"/><rect x="63.5" y="383.5" width="4.3" height="4.3" fill="#cae2ee"/><rect x="67.5" y="383.5" width="4.3" height="4.3" fill="#c9e2ee"/><rect x="71.5" y="383.5" width="4.3" height="4.3" fill="#c7e2ed"/><rect x="75.5" y="383.5" width="4.3" height="4.3" fill="#c7e2ed"/><rect x="79.5" y="383.5" width="4.3" height="4.3" fill="#c6e1ec"/><rect x="83.5" y="383.5" width="4.3" height="4.3" fill="#c6e1ec"/><rect x="87.5" y="383.5" width="4.3" height="4.3" fill="#c7e0ec"/><rect x="91.5" y="383.5" width="4.3" height="4.3" fill="#c8deed"/><rect x="95.5" y="383.5" width="4.3" height="4.3" fill="#c9daed"/><rect x="99.5" y="383.5" width="4.3" height="4.3" fill="#c9d4ed"/><rect x="103.5" y="383.5" width="4.3" height="4.3" fill="#caceed"/><rect x="107.5" y="383.5" width="4.3" height="4.3" fill="#cac7ed"/><rect x="111.5" y="383.5" width="4.3" height="4.3" fill="#cbc2ed"/><rect x="115.5" y="383.5" width="4.3" height="4.3" fill="#cdbeed"/><rect x="119.5" y="383.5" width="4.3" height="4.3" fill="#d0bced"/><rect x="123.5" y="383.5" width="4.3" height="4.3" fill="#d4baed"/><rect x="127.5" y="383.5" width="4.3" height="4.3" fill="#dabaec"/><rect x="131.5" y="383.5" width="4.3" height="4.3" fill="#e0b9eb"/><rect x="135.5" y="383.5" width="4.3" height="4.3" fill="#e6b8ea"/><rect x="139.5" y="383.5" width="4.3" height="4.3" fill="#ebb6e9"/><rect x="143.5" y="383.5" width="4.3" height="4.3" fill="#eeb4e8"/><rect x="147.5" y="383.5" width="4.3" height="4.3" fill="#f0b3e8"/><rect x="151.5" y="383.5" width="4.3" height="4.3" fill="#f1b2e8"/><rect x="155.5" y="383.5" width="4.3" height="4.3" fill="#f1b2e8"/><rect x="159.5" y="383.5" width="4.3" height="4.3" fill="#f2b3e8"/><rect x="163.5" y="383.5" width="4.3" height="4.3" fill="#f2b4e8"/><rect x="167.5" y="383.5" width="4.3" height="4.3" fill="#f2b5e9"/><rect x="171.5" y="383.5" width="4.3" height="4.3" fill="#f3b7e9"/><rect x="175.5" y="383.5" width="4.3" height="4.3" fill="#f3baea"/><rect x="179.5" y="383.5" width="4.3" height="4.3" fill="#f3bdeb"/><rect x="183.5" y="383.5" width="4.3" height="4.3" fill="#f4c0ec"/><rect x="187.5" y="383.5" width="4.3" height="4.3" fill="#f4c4ed"/><rect x="191.5" y="383.5" width="4.3" height="4.3" fill="#f5c8ee"/><rect x="195.5" y="383.5" width="4.3" height="4.3" fill="#f6cdef"/><rect x="31.5" y="387.5" width="4.3" height="4.3" fill="#d7e6f3"/><rect x="35.5" y="387.5" width="4.3" height="4.3" fill="#d7e6f2"/><rect x="39.5" y="387.5" width="4.3" height="4.3" fill="#d6e5f2"/><rect x="43.5" y="387.5" width="4.3" height="4.3" fill="#d6e5f2"/><rect x="47.5" y="387.5" width="4.3" height="4.3" fill="#d4e4f2"/><rect x="51.5" y="387.5" width="4.3" height="4.3" fill="#d3e4f1"/><rect x="55.5" y="387.5" width="4.3" height="4.3" fill="#d1e4f1"/><rect x="59.5" y="387.5" width="4.3" height="4.3" fill="#cfe3f0"/><rect x="63.5" y="387.5" width="4.3" height="4.3" fill="#cde3ef"/><rect x="67.5" y="387.5" width="4.3" height="4.3" fill="#cbe2ee"/><rect x="71.5" y="387.5" width="4.3" height="4.3" fill="#c9e2ee"/><rect x="75.5" y="387.5" width="4.3" height="4.3" fill="#c8e2ed"/><rect x="79.5" y="387.5" width="4.3" height="4.3" fill="#c7e2ed"/><rect x="83.5" y="387.5" width="4.3" height="4.3" fill="#c6e1ec"/><rect x="87.5" y="387.5" width="4.3" height="4.3" fill="#c7e0ec"/><rect x="91.5" y="387.5" width="4.3" height="4.3" fill="#c8dfec"/><rect x="95.5" y="387.5" width="4.3" height="4.3" fill="#c9dced"/><rect x="99.5" y="387.5" width="4.3" height="4.3" fill="#cad7ed"/><rect x="103.5" y="387.5" width="4.3" height="4.3" fill="#cad1ed"/><rect x="107.5" y="387.5" width="4.3" height="4.3" fill="#cbcaee"/><rect x="111.5" y="387.5" width="4.3" height="4.3" fill="#ccc5ee"/><rect x="115.5" y="387.5" width="4.3" height="4.3" fill="#cec2ee"/><rect x="119.5" y="387.5" width="4.3" height="4.3" fill="#d1bfee"/><rect x="123.5" y="387.5" width="4.3" height="4.3" fill="#d5beee"/><rect x="127.5" y="387.5" width="4.3" height="4.3" fill="#dabded"/><rect x="131.5" y="387.5" width="4.3" height="4.3" fill="#e0bdec"/><rect x="135.5" y="387.5" width="4.3" height="4.3" fill="#e6bcec"/><rect x="139.5" y="387.5" width="4.3" height="4.3" fill="#ebbaeb"/><rect x="143.5" y="387.5" width="4.3" height="4.3" fill="#eeb9ea"/><rect x="147.5" y="387.5" width="4.3" height="4.3" fill="#f0b7e9"/><rect x="151.5" y="387.5" width="4.3" height="4.3" fill="#f1b7e9"/><rect x="155.5" y="387.5" width="4.3" height="4.3" fill="#f2b7e9"/><rect x="159.5" y="387.5" width="4.3" height="4.3" fill="#f2b7e9"/><rect x="163.5" y="387.5" width="4.3" height="4.3" fill="#f3b8e9"/><rect x="167.5" y="387.5" width="4.3" height="4.3" fill="#f3baea"/><rect x="171.5" y="387.5" width="4.3" height="4.3" fill="#f3bbea"/><rect x="175.5" y="387.5" width="4.3" height="4.3" fill="#f3beeb"/><rect x="179.5" y="387.5" width="4.3" height="4.3" fill="#f4c0ec"/><rect x="183.5" y="387.5" width="4.3" height="4.3" fill="#f4c3ec"/><rect x="187.5" y="387.5" width="4.3" height="4.3" fill="#f5c7ed"/><rect x="191.5" y="387.5" width="4.3" height="4.3" fill="#f5cbee"/><rect x="195.5" y="387.5" width="4.3" height="4.3" fill="#f6d0f0"/><rect x="31.5" y="391.5" width="4.3" height="4.3" fill="#dae7f3"/><rect x="35.5" y="391.5" width="4.3" height="4.3" fill="#dae6f3"/><rect x="39.5" y="391.5" width="4.3" height="4.3" fill="#d9e6f3"/><rect x="43.5" y="391.5" width="4.3" height="4.3" fill="#d8e6f3"/><rect x="47.5" y="391.5" width="4.3" height="4.3" fill="#d7e5f3"/><rect x="51.5" y="391.5" width="4.3" height="4.3" fill="#d6e5f2"/><rect x="55.5" y="391.5" width="4.3" height="4.3" fill="#d4e5f1"/><rect x="59.5" y="391.5" width="4.3" height="4.3" fill="#d2e4f1"/><rect x="63.5" y="391.5" width="4.3" height="4.3" fill="#d0e4f0"/><rect x="67.5" y="391.5" width="4.3" height="4.3" fill="#cee3ef"/><rect x="71.5" y="391.5" width="4.3" height="4.3" fill="#cbe3ee"/><rect x="75.5" y="391.5" width="4.3" height="4.3" fill="#c9e2ee"/><rect x="79.5" y="391.5" width="4.3" height="4.3" fill="#c8e2ed"/><rect x="83.5" y="391.5" width="4.3" height="4.3" fill="#c7e2ed"/><rect x="87.5" y="391.5" width="4.3" height="4.3" fill="#c7e1ec"/><rect x="91.5" y="391.5" width="4.3" height="4.3" fill="#c7e0ec"/><rect x="95.5" y="391.5" width="4.3" height="4.3" fill="#c8dded"/><rect x="99.5" y="391.5" width="4.3" height="4.3" fill="#cad9ed"/><rect x="103.5" y="391.5" width="4.3" height="4.3" fill="#cbd3ee"/><rect x="107.5" y="391.5" width="4.3" height="4.3" fill="#ccceee"/><rect x="111.5" y="391.5" width="4.3" height="4.3" fill="#cec9ee"/><rect x="115.5" y="391.5" width="4.3" height="4.3" fill="#d0c6ee"/><rect x="119.5" y="391.5" width="4.3" height="4.3" fill="#d3c3ee"/><rect x="123.5" y="391.5" width="4.3" height="4.3" fill="#d6c2ee"/><rect x="127.5" y="391.5" width="4.3" height="4.3" fill="#dbc1ee"/><rect x="131.5" y="391.5" width="4.3" height="4.3" fill="#e0c1ee"/><rect x="135.5" y="391.5" width="4.3" height="4.3" fill="#e6c0ed"/><rect x="139.5" y="391.5" width="4.3" height="4.3" fill="#ebbfec"/><rect x="143.5" y="391.5" width="4.3" height="4.3" fill="#eebeeb"/><rect x="147.5" y="391.5" width="4.3" height="4.3" fill="#f1bceb"/><rect x="151.5" y="391.5" width="4.3" height="4.3" fill="#f2bcea"/><rect x="155.5" y="391.5" width="4.3" height="4.3" fill="#f3bcea"/><rect x="159.5" y="391.5" width="4.3" height="4.3" fill="#f3bcea"/><rect x="163.5" y="391.5" width="4.3" height="4.3" fill="#f3bdeb"/><rect x="167.5" y="391.5" width="4.3" height="4.3" fill="#f3beeb"/><rect x="171.5" y="391.5" width="4.3" height="4.3" fill="#f4c0eb"/><rect x="175.5" y="391.5" width="4.3" height="4.3" fill="#f4c2ec"/><rect x="179.5" y="391.5" width="4.3" height="4.3" fill="#f4c4ed"/><rect x="183.5" y="391.5" width="4.3" height="4.3" fill="#f5c7ed"/><rect x="187.5" y="391.5" width="4.3" height="4.3" fill="#f5caee"/><rect x="191.5" y="391.5" width="4.3" height="4.3" fill="#f6ceef"/><rect x="195.5" y="391.5" width="4.3" height="4.3" fill="#f6d2f1"/><rect x="31.5" y="395.5" width="4.3" height="4.3" fill="#dce8f4"/><rect x="35.5" y="395.5" width="4.3" height="4.3" fill="#dce8f4"/><rect x="39.5" y="395.5" width="4.3" height="4.3" fill="#dce7f4"/><rect x="43.5" y="395.5" width="4.3" height="4.3" fill="#dbe7f4"/><rect x="47.5" y="395.5" width="4.3" height="4.3" fill="#dae7f3"/><rect x="51.5" y="395.5" width="4.3" height="4.3" fill="#d9e6f3"/><rect x="55.5" y="395.5" width="4.3" height="4.3" fill="#d7e6f2"/><rect x="59.5" y="395.5" width="4.3" height="4.3" fill="#d5e6f2"/><rect x="63.5" y="395.5" width="4.3" height="4.3" fill="#d3e5f1"/><rect x="67.5" y="395.5" width="4.3" height="4.3" fill="#d0e5f0"/><rect x="71.5" y="395.5" width="4.3" height="4.3" fill="#cee4ef"/><rect x="75.5" y="395.5" width="4.3" height="4.3" fill="#cce4ee"/><rect x="79.5" y="395.5" width="4.3" height="4.3" fill="#cae3ee"/><rect x="83.5" y="395.5" width="4.3" height="4.3" fill="#c9e3ed"/><rect x="87.5" y="395.5" width="4.3" height="4.3" fill="#c8e2ed"/><rect x="91.5" y="395.5" width="4.3" height="4.3" fill="#c8e1ed"/><rect x="95.5" y="395.5" width="4.3" height="4.3" fill="#c9dfed"/><rect x="99.5" y="395.5" width="4.3" height="4.3" fill="#cbdbed"/><rect x="103.5" y="395.5" width="4.3" height="4.3" fill="#cdd7ee"/><rect x="107.5" y="395.5" width="4.3" height="4.3" fill="#ced2ef"/><rect x="111.5" y="395.5" width="4.3" height="4.3" fill="#d0ceef"/><rect x="115.5" y="395.5" width="4.3" height="4.3" fill="#d2caef"/><rect x="119.5" y="395.5" width="4.3" height="4.3" fill="#d5c8ef"/><rect x="123.5" y="395.5" width="4.3" height="4.3" fill="#d8c7ef"/><rect x="127.5" y="395.5" width="4.3" height="4.3" fill="#dcc6ef"/><rect x="131.5" y="395.5" width="4.3" height="4.3" fill="#e1c6ef"/><rect x="135.5" y="395.5" width="4.3" height="4.3" fill="#e6c5ee"/><rect x="139.5" y="395.5" width="4.3" height="4.3" fill="#ebc4ed"/><rect x="143.5" y="395.5" width="4.3" height="4.3" fill="#efc3ed"/><rect x="147.5" y="395.5" width="4.3" height="4.3" fill="#f1c2ec"/><rect x="151.5" y="395.5" width="4.3" height="4.3" fill="#f2c1ec"/><rect x="155.5" y="395.5" width="4.3" height="4.3" fill="#f3c1ec"/><rect x="159.5" y="395.5" width="4.3" height="4.3" fill="#f4c2ec"/><rect x="163.5" y="395.5" width="4.3" height="4.3" fill="#f4c2ec"/><rect x="167.5" y="395.5" width="4.3" height="4.3" fill="#f4c3ec"/><rect x="171.5" y="395.5" width="4.3" height="4.3" fill="#f4c5ed"/><rect x="175.5" y="395.5" width="4.3" height="4.3" fill="#f5c7ed"/><rect x="179.5" y="395.5" width="4.3" height="4.3" fill="#f5c9ee"/><rect x="183.5" y="395.5" width="4.3" height="4.3" fill="#f5cbef"/><rect x="187.5" y="395.5" width="4.3" height="4.3" fill="#f6ceef"/><rect x="191.5" y="395.5" width="4.3" height="4.3" fill="#f6d1f0"/><rect x="195.5" y="395.5" width="4.3" height="4.3" fill="#f7d5f1"/><rect x="31.5" y="399.5" width="4.3" height="4.3" fill="#dfe9f5"/><rect x="35.5" y="399.5" width="4.3" height="4.3" fill="#dfe9f5"/><rect x="39.5" y="399.5" width="4.3" height="4.3" fill="#dee9f5"/><rect x="43.5" y="399.5" width="4.3" height="4.3" fill="#dee9f4"/><rect x="47.5" y="399.5" width="4.3" height="4.3" fill="#dde8f4"/><rect x="51.5" y="399.5" width="4.3" height="4.3" fill="#dce8f4"/><rect x="55.5" y="399.5" width="4.3" height="4.3" fill="#dae8f3"/><rect x="59.5" y="399.5" width="4.3" height="4.3" fill="#d8e7f3"/><rect x="63.5" y="399.5" width="4.3" height="4.3" fill="#d6e7f2"/><rect x="67.5" y="399.5" width="4.3" height="4.3" fill="#d4e6f1"/><rect x="71.5" y="399.5" width="4.3" height="4.3" fill="#d2e6f0"/><rect x="75.5" y="399.5" width="4.3" height="4.3" fill="#d0e5ef"/><rect x="79.5" y="399.5" width="4.3" height="4.3" fill="#cee5ef"/><rect x="83.5" y="399.5" width="4.3" height="4.3" fill="#cce4ee"/><rect x="87.5" y="399.5" width="4.3" height="4.3" fill="#cbe4ee"/><rect x="91.5" y="399.5" width="4.3" height="4.3" fill="#cbe3ee"/><rect x="95.5" y="399.5" width="4.3" height="4.3" fill="#cce1ee"/><rect x="99.5" y="399.5" width="4.3" height="4.3" fill="#cedfee"/><rect x="103.5" y="399.5" width="4.3" height="4.3" fill="#d0dbef"/><rect x="107.5" y="399.5" width="4.3" height="4.3" fill="#d2d7ef"/><rect x="111.5" y="399.5" width="4.3" height="4.3" fill="#d4d3f0"/><rect x="115.5" y="399.5" width="4.3" height="4.3" fill="#d6d0f0"/><rect x="119.5" y="399.5" width="4.3" height="4.3" fill="#d8cef1"/><rect x="123.5" y="399.5" width="4.3" height="4.3" fill="#dbccf1"/><rect x="127.5" y="399.5" width="4.3" height="4.3" fill="#dfccf0"/><rect x="131.5" y="399.5" width="4.3" height="4.3" fill="#e3cbf0"/><rect x="135.5" y="399.5" width="4.3" height="4.3" fill="#e7cbf0"/><rect x="139.5" y="399.5" width="4.3" height="4.3" fill="#eccaef"/><rect x="143.5" y="399.5" width="4.3" height="4.3" fill="#efcaee"/><rect x="147.5" y="399.5" width="4.3" height="4.3" fill="#f2c9ee"/><rect x="151.5" y="399.5" width="4.3" height="4.3" fill="#f3c8ee"/><rect x="155.5" y="399.5" width="4.3" height="4.3" fill="#f4c8ee"/><rect x="159.5" y="399.5" width="4.3" height="4.3" fill="#f4c8ee"/><rect x="163.5" y="399.5" width="4.3" height="4.3" fill="#f5c9ee"/><rect x="167.5" y="399.5" width="4.3" height="4.3" fill="#f5caee"/><rect x="171.5" y="399.5" width="4.3" height="4.3" fill="#f5cbef"/><rect x="175.5" y="399.5" width="4.3" height="4.3" fill="#f5ccef"/><rect x="179.5" y="399.5" width="4.3" height="4.3" fill="#f6ceef"/><rect x="183.5" y="399.5" width="4.3" height="4.3" fill="#f6d0f0"/><rect x="187.5" y="399.5" width="4.3" height="4.3" fill="#f6d3f1"/><rect x="191.5" y="399.5" width="4.3" height="4.3" fill="#f7d6f1"/><rect x="195.5" y="399.5" width="4.3" height="4.3" fill="#f7daf3"/><rect x="31.5" y="403.5" width="4.3" height="4.3" fill="#e2ecf6"/><rect x="35.5" y="403.5" width="4.3" height="4.3" fill="#e2ecf6"/><rect x="39.5" y="403.5" width="4.3" height="4.3" fill="#e2ebf5"/><rect x="43.5" y="403.5" width="4.3" height="4.3" fill="#e1ebf5"/><rect x="47.5" y="403.5" width="4.3" height="4.3" fill="#e1ebf5"/><rect x="51.5" y="403.5" width="4.3" height="4.3" fill="#e0ebf5"/><rect x="55.5" y="403.5" width="4.3" height="4.3" fill="#dfeaf4"/><rect x="59.5" y="403.5" width="4.3" height="4.3" fill="#ddeaf4"/><rect x="63.5" y="403.5" width="4.3" height="4.3" fill="#dbeaf3"/><rect x="67.5" y="403.5" width="4.3" height="4.3" fill="#d9e9f3"/><rect x="71.5" y="403.5" width="4.3" height="4.3" fill="#d7e9f2"/><rect x="75.5" y="403.5" width="4.3" height="4.3" fill="#d6e9f1"/><rect x="79.5" y="403.5" width="4.3" height="4.3" fill="#d4e8f0"/><rect x="83.5" y="403.5" width="4.3" height="4.3" fill="#d3e8f0"/><rect x="87.5" y="403.5" width="4.3" height="4.3" fill="#d2e7f0"/><rect x="91.5" y="403.5" width="4.3" height="4.3" fill="#d2e7f0"/><rect x="95.5" y="403.5" width="4.3" height="4.3" fill="#d2e5f0"/><rect x="99.5" y="403.5" width="4.3" height="4.3" fill="#d4e4f0"/><rect x="103.5" y="403.5" width="4.3" height="4.3" fill="#d5e1f1"/><rect x="107.5" y="403.5" width="4.3" height="4.3" fill="#d7def1"/><rect x="111.5" y="403.5" width="4.3" height="4.3" fill="#d9daf2"/><rect x="115.5" y="403.5" width="4.3" height="4.3" fill="#dbd7f2"/><rect x="119.5" y="403.5" width="4.3" height="4.3" fill="#ddd5f2"/><rect x="123.5" y="403.5" width="4.3" height="4.3" fill="#dfd4f2"/><rect x="127.5" y="403.5" width="4.3" height="4.3" fill="#e2d3f2"/><rect x="131.5" y="403.5" width="4.3" height="4.3" fill="#e6d3f2"/><rect x="135.5" y="403.5" width="4.3" height="4.3" fill="#e9d3f2"/><rect x="139.5" y="403.5" width="4.3" height="4.3" fill="#edd2f1"/><rect x="143.5" y="403.5" width="4.3" height="4.3" fill="#f1d2f1"/><rect x="147.5" y="403.5" width="4.3" height="4.3" fill="#f3d1f0"/><rect x="151.5" y="403.5" width="4.3" height="4.3" fill="#f4d1f0"/><rect x="155.5" y="403.5" width="4.3" height="4.3" fill="#f5d1f0"/><rect x="159.5" y="403.5" width="4.3" height="4.3" fill="#f6d1f0"/><rect x="163.5" y="403.5" width="4.3" height="4.3" fill="#f6d1f0"/><rect x="167.5" y="403.5" width="4.3" height="4.3" fill="#f6d2f0"/><rect x="171.5" y="403.5" width="4.3" height="4.3" fill="#f6d3f1"/><rect x="175.5" y="403.5" width="4.3" height="4.3" fill="#f6d4f1"/><rect x="179.5" y="403.5" width="4.3" height="4.3" fill="#f7d5f1"/><rect x="183.5" y="403.5" width="4.3" height="4.3" fill="#f7d7f2"/><rect x="187.5" y="403.5" width="4.3" height="4.3" fill="#f7d9f2"/><rect x="191.5" y="403.5" width="4.3" height="4.3" fill="#f7dbf3"/><rect x="195.5" y="403.5" width="4.3" height="4.3" fill="#f8dcf3"/>
</g></g>
<rect x="31.5" y="291.5" width="168" height="116" fill="none" stroke="#5a5a5a" stroke-width="1.0"/>
<line x1="29.5" y1="320.4" x2="31.5" y2="320.4" stroke="#333" stroke-width="0.8"/>
<text x="29.3" y="322.0" font-size="4.8" text-anchor="end" fill="#333" stroke="#333" stroke-width="0.12">2</text>
<line x1="29.5" y1="353.2" x2="31.5" y2="353.2" stroke="#333" stroke-width="0.8"/>
<text x="29.3" y="354.8" font-size="4.8" text-anchor="end" fill="#333" stroke="#333" stroke-width="0.12">0</text>
<line x1="29.5" y1="386.0" x2="31.5" y2="386.0" stroke="#333" stroke-width="0.8"/>
<text x="29.3" y="387.6" font-size="4.8" text-anchor="end" fill="#333" stroke="#333" stroke-width="0.12">-2</text>
<line x1="77.1" y1="407.5" x2="77.1" y2="409.5" stroke="#333" stroke-width="0.8"/>
<text x="77.1" y="413.8" font-size="4.8" text-anchor="middle" fill="#333" stroke="#333" stroke-width="0.12">0</text>
<line x1="140.2" y1="407.5" x2="140.2" y2="409.5" stroke="#333" stroke-width="0.8"/>
<text x="140.2" y="413.8" font-size="4.8" text-anchor="middle" fill="#333" stroke="#333" stroke-width="0.12">5</text>
<text x="98.7" y="420.4" font-size="4.0" text-anchor="start" fill="#333" stroke="#333" stroke-width="0.12" textLength="26.3" lengthAdjust="spacingAndGlyphs">PC1 (37.5%)</text>
<text x="26.8" y="366" font-size="4.0" text-anchor="start" fill="#333" stroke="#333" stroke-width="0.12" textLength="26.5" lengthAdjust="spacingAndGlyphs" transform="rotate(-90 26.8 366)">PC2 (18.9%)</text>
<circle cx="78.6" cy="317.7" r="2.05" fill="#eeeef8" stroke="#6a6a7a" stroke-width="0.6"/>
<circle cx="64.6" cy="343.1" r="2.05" fill="#eeeef8" stroke="#6a6a7a" stroke-width="0.6"/>
<circle cx="52.6" cy="362.8" r="2.05" fill="#eeeef8" stroke="#6a6a7a" stroke-width="0.6"/>
<circle cx="39.3" cy="374.4" r="2.05" fill="#eeeef8" stroke="#6a6a7a" stroke-width="0.6"/>
<circle cx="44.7" cy="377.4" r="2.05" fill="#eeeef8" stroke="#6a6a7a" stroke-width="0.6"/>
<circle cx="57.9" cy="374.4" r="2.05" fill="#eeeef8" stroke="#6a6a7a" stroke-width="0.6"/>
<circle cx="53.8" cy="351.3" r="2.05" fill="#5b5be8" stroke="#33336a" stroke-width="0.5"/>
<circle cx="54.4" cy="361.2" r="2.05" fill="#5b5be8" stroke="#33336a" stroke-width="0.5"/>
<circle cx="83" cy="364.7" r="2.05" fill="#5b5be8" stroke="#33336a" stroke-width="0.5"/>
<circle cx="53.7" cy="367" r="2.05" fill="#5b5be8" stroke="#33336a" stroke-width="0.5"/>
<circle cx="47.9" cy="371.2" r="2.05" fill="#5b5be8" stroke="#33336a" stroke-width="0.5"/>
<circle cx="49.8" cy="378.1" r="2.05" fill="#5b5be8" stroke="#33336a" stroke-width="0.5"/>
<circle cx="138" cy="395.4" r="2.05" fill="#5b5be8" stroke="#33336a" stroke-width="0.5"/>
<circle cx="68.8" cy="313.5" r="2.05" fill="#1e9080" stroke="#1c3c3c" stroke-width="0.5"/>
<circle cx="67.8" cy="334" r="2.05" fill="#1e9080" stroke="#1c3c3c" stroke-width="0.5"/>
<circle cx="75.2" cy="339.9" r="2.05" fill="#1e9080" stroke="#1c3c3c" stroke-width="0.5"/>
<circle cx="62.6" cy="344.8" r="2.05" fill="#1e9080" stroke="#1c3c3c" stroke-width="0.5"/>
<circle cx="67.6" cy="346.2" r="2.05" fill="#1e9080" stroke="#1c3c3c" stroke-width="0.5"/>
<circle cx="67.6" cy="349.2" r="2.05" fill="#1e9080" stroke="#1c3c3c" stroke-width="0.5"/>
<circle cx="59.5" cy="356.4" r="2.05" fill="#1e9080" stroke="#1c3c3c" stroke-width="0.5"/>
<circle cx="55.8" cy="358.4" r="2.05" fill="#1e9080" stroke="#1c3c3c" stroke-width="0.5"/>
<circle cx="74.9" cy="361.9" r="2.05" fill="#1e9080" stroke="#1c3c3c" stroke-width="0.5"/>
<circle cx="71.4" cy="366.3" r="2.05" fill="#1e9080" stroke="#1c3c3c" stroke-width="0.5"/>
<circle cx="93.3" cy="367.4" r="2.05" fill="#1e9080" stroke="#1c3c3c" stroke-width="0.5"/>
<circle cx="102.1" cy="381.4" r="2.05" fill="#1e9080" stroke="#1c3c3c" stroke-width="0.5"/>
<circle cx="97" cy="385.6" r="2.05" fill="#1e9080" stroke="#1c3c3c" stroke-width="0.5"/>
<circle cx="109.5" cy="301.6" r="2.05" fill="#d312b8" stroke="#5a1050" stroke-width="0.5"/>
<circle cx="130.2" cy="350.2" r="2.05" fill="#d312b8" stroke="#5a1050" stroke-width="0.5"/>
<circle cx="164.5" cy="376.6" r="2.05" fill="#d312b8" stroke="#5a1050" stroke-width="0.5"/>
<circle cx="185.9" cy="389.7" r="2.05" fill="#d312b8" stroke="#5a1050" stroke-width="0.5"/>
<circle cx="40" cy="432.4" r="2.4" fill="#dedef4" stroke="#555" stroke-width="0.6"/>
<text x="44.5" y="434.8" font-size="6.8" text-anchor="start" fill="#222" stroke="#222" stroke-width="0.10" textLength="24" lengthAdjust="spacingAndGlyphs">scNAIVE</text>
<circle cx="82.4" cy="432.1" r="2.4" fill="#5b5be8" stroke="#333" stroke-width="0.5"/>
<text x="87.3" y="434.6" font-size="6.8" text-anchor="start" fill="#222" stroke="#222" stroke-width="0.10" textLength="12.2" lengthAdjust="spacingAndGlyphs">CTR</text>
<circle cx="111.7" cy="432.1" r="2.4" fill="#1e9080" stroke="#333" stroke-width="0.5"/>
<text x="117" y="434.6" font-size="6.8" text-anchor="start" fill="#222" stroke="#222" stroke-width="0.10" textLength="32.5" lengthAdjust="spacingAndGlyphs">NLS_R-115</text>
<circle cx="161.75" cy="432.1" r="2.4" fill="#d312b8" stroke="#333" stroke-width="0.5"/>
<text x="167" y="434.6" font-size="6.8" text-anchor="start" fill="#222" stroke="#222" stroke-width="0.10" textLength="27.3" lengthAdjust="spacingAndGlyphs">LS_R-115</text>
<text x="219" y="295.4" font-size="7.0" text-anchor="start" fill="#222" stroke="#222" stroke-width="0.30" textLength="3.4" lengthAdjust="spacingAndGlyphs">F</text>
<text x="218.7" y="372.3" font-size="7.0" text-anchor="start" fill="#222" stroke="#222" stroke-width="0.30" textLength="5.7" lengthAdjust="spacingAndGlyphs">G</text>
<rect x="274.4" y="290.8" width="67.2" height="6.0" fill="#d9e6e3" stroke="#444" stroke-width="0.8"/>
<text x="308.3" y="295.5" font-size="5.2" text-anchor="middle" fill="#222" stroke="#222" stroke-width="0.12">PC1</text>
<line x1="274.4" y1="296.8" x2="274.4" y2="352.7" stroke="#444" stroke-width="0.9"/>
<line x1="274.0" y1="352.7" x2="341.6" y2="352.7" stroke="#444" stroke-width="0.9"/>
<line x1="272.6" y1="300.4" x2="274.4" y2="300.4" stroke="#333" stroke-width="0.7"/>
<text x="272.2" y="301.84999999999997" font-size="4.45" text-anchor="end" fill="#333" stroke="#333" stroke-width="0.10" textLength="26.8" lengthAdjust="spacingAndGlyphs">IFN-γ_mHGG</text>
<line x1="308.2" y1="300.4" x2="330.3" y2="300.4" stroke="#4ec69c" stroke-width="1.4"/>
<circle cx="330.3" cy="300.4" r="1.95" fill="#4ec69c" stroke="none" stroke-width="0.5"/>
<line x1="272.6" y1="304.92999999999995" x2="274.4" y2="304.92999999999995" stroke="#333" stroke-width="0.7"/>
<text x="272.2" y="306.37999999999994" font-size="4.45" text-anchor="end" fill="#333" stroke="#333" stroke-width="0.10" textLength="40.5" lengthAdjust="spacingAndGlyphs">TNF-α_mHGG-HER2</text>
<line x1="308.2" y1="304.92999999999995" x2="329.28" y2="304.92999999999995" stroke="#4ec69c" stroke-width="1.4"/>
<circle cx="329.28" cy="304.92999999999995" r="1.95" fill="#4ec69c" stroke="none" stroke-width="0.5"/>
<line x1="272.6" y1="309.46" x2="274.4" y2="309.46" stroke="#333" stroke-width="0.7"/>
<text x="272.2" y="310.90999999999997" font-size="4.45" text-anchor="end" fill="#333" stroke="#333" stroke-width="0.10" textLength="53.4" lengthAdjust="spacingAndGlyphs">Granzyme B_mHGG-HER2</text>
<line x1="308.2" y1="309.46" x2="328.94" y2="309.46" stroke="#4ec69c" stroke-width="1.4"/>
<circle cx="328.94" cy="309.46" r="1.95" fill="#4ec69c" stroke="none" stroke-width="0.5"/>
<line x1="272.6" y1="313.98999999999995" x2="274.4" y2="313.98999999999995" stroke="#333" stroke-width="0.7"/>
<text x="272.2" y="315.43999999999994" font-size="4.45" text-anchor="end" fill="#333" stroke="#333" stroke-width="0.10" textLength="28.2" lengthAdjust="spacingAndGlyphs">TNF-α_mHGG</text>
<line x1="308.2" y1="313.98999999999995" x2="328.59999999999997" y2="313.98999999999995" stroke="#4ec69c" stroke-width="1.4"/>
<circle cx="328.59999999999997" cy="313.98999999999995" r="1.95" fill="#4ec69c" stroke="none" stroke-width="0.5"/>
<line x1="272.6" y1="318.52" x2="274.4" y2="318.52" stroke="#333" stroke-width="0.7"/>
<text x="272.2" y="319.96999999999997" font-size="4.45" text-anchor="end" fill="#333" stroke="#333" stroke-width="0.10" textLength="40.8" lengthAdjust="spacingAndGlyphs">Granzyme B_mHGG</text>
<line x1="308.2" y1="318.52" x2="327.91999999999996" y2="318.52" stroke="#4ec69c" stroke-width="1.4"/>
<circle cx="327.91999999999996" cy="318.52" r="1.95" fill="#4ec69c" stroke="none" stroke-width="0.5"/>
<line x1="272.6" y1="323.04999999999995" x2="274.4" y2="323.04999999999995" stroke="#333" stroke-width="0.7"/>
<text x="272.2" y="324.49999999999994" font-size="4.45" text-anchor="end" fill="#333" stroke="#333" stroke-width="0.10" textLength="40.5" lengthAdjust="spacingAndGlyphs">IgG2b_mHGG-HER2</text>
<line x1="308.2" y1="323.04999999999995" x2="326.21999999999997" y2="323.04999999999995" stroke="#4ec69c" stroke-width="1.4"/>
<circle cx="326.21999999999997" cy="323.04999999999995" r="1.95" fill="#4ec69c" stroke="none" stroke-width="0.5"/>
<line x1="272.6" y1="327.58" x2="274.4" y2="327.58" stroke="#333" stroke-width="0.7"/>
<text x="272.2" y="329.03" font-size="4.45" text-anchor="end" fill="#333" stroke="#333" stroke-width="0.10" textLength="29.2" lengthAdjust="spacingAndGlyphs">MHC-I_mHGG</text>
<line x1="308.2" y1="327.58" x2="325.2" y2="327.58" stroke="#4ec69c" stroke-width="1.4"/>
<circle cx="325.2" cy="327.58" r="1.95" fill="#4ec69c" stroke="none" stroke-width="0.5"/>
<line x1="272.6" y1="332.10999999999996" x2="274.4" y2="332.10999999999996" stroke="#333" stroke-width="0.7"/>
<text x="272.2" y="333.55999999999995" font-size="4.45" text-anchor="end" fill="#333" stroke="#333" stroke-width="0.10" textLength="41.7" lengthAdjust="spacingAndGlyphs">MHC-I_mHGG-HER2</text>
<line x1="308.2" y1="332.10999999999996" x2="325.2" y2="332.10999999999996" stroke="#4ec69c" stroke-width="1.4"/>
<circle cx="325.2" cy="332.10999999999996" r="1.95" fill="#4ec69c" stroke="none" stroke-width="0.5"/>
<line x1="272.6" y1="336.64" x2="274.4" y2="336.64" stroke="#333" stroke-width="0.7"/>
<text x="272.2" y="338.09" font-size="4.45" text-anchor="end" fill="#333" stroke="#333" stroke-width="0.10" textLength="27.4" lengthAdjust="spacingAndGlyphs">IgG2b_mHGG</text>
<line x1="308.2" y1="336.64" x2="323.5" y2="336.64" stroke="#4ec69c" stroke-width="1.4"/>
<circle cx="323.5" cy="336.64" r="1.95" fill="#4ec69c" stroke="none" stroke-width="0.5"/>
<line x1="272.6" y1="341.16999999999996" x2="274.4" y2="341.16999999999996" stroke="#333" stroke-width="0.7"/>
<text x="272.2" y="342.61999999999995" font-size="4.45" text-anchor="end" fill="#333" stroke="#333" stroke-width="0.10" textLength="39.1" lengthAdjust="spacingAndGlyphs">IFN-γ_mHGG-HER2</text>
<line x1="308.2" y1="341.16999999999996" x2="322.82" y2="341.16999999999996" stroke="#4ec69c" stroke-width="1.4"/>
<circle cx="322.82" cy="341.16999999999996" r="1.95" fill="#4ec69c" stroke="none" stroke-width="0.5"/>
<line x1="272.6" y1="345.7" x2="274.4" y2="345.7" stroke="#333" stroke-width="0.7"/>
<text x="272.2" y="347.15" font-size="4.45" text-anchor="end" fill="#333" stroke="#333" stroke-width="0.10" textLength="30.0" lengthAdjust="spacingAndGlyphs">DsRed+_mHGG</text>
<line x1="308.2" y1="345.7" x2="292.21999999999997" y2="345.7" stroke="#4ec69c" stroke-width="1.4"/>
<circle cx="292.21999999999997" cy="345.7" r="1.95" fill="#4ec69c" stroke="none" stroke-width="0.5"/>
<line x1="272.6" y1="350.22999999999996" x2="274.4" y2="350.22999999999996" stroke="#333" stroke-width="0.7"/>
<text x="272.2" y="351.67999999999995" font-size="4.45" text-anchor="end" fill="#333" stroke="#333" stroke-width="0.10" textLength="44.1" lengthAdjust="spacingAndGlyphs">DsRed+_mHGG-HER2</text>
<line x1="308.2" y1="350.22999999999996" x2="290.52" y2="350.22999999999996" stroke="#4ec69c" stroke-width="1.4"/>
<circle cx="290.52" cy="350.22999999999996" r="1.95" fill="#4ec69c" stroke="none" stroke-width="0.5"/>
<line x1="291.2" y1="352.7" x2="291.2" y2="354.2" stroke="#444" stroke-width="0.7"/>
<text x="291.2" y="357.59999999999997" font-size="4.2" text-anchor="middle" fill="#444" stroke="#444" stroke-width="0.08">-0.25</text>
<line x1="308.2" y1="352.7" x2="308.2" y2="354.2" stroke="#444" stroke-width="0.7"/>
<text x="308.2" y="357.59999999999997" font-size="4.2" text-anchor="middle" fill="#444" stroke="#444" stroke-width="0.08">0.00</text>
<line x1="325.2" y1="352.7" x2="325.2" y2="354.2" stroke="#444" stroke-width="0.7"/>
<text x="325.2" y="357.59999999999997" font-size="4.2" text-anchor="middle" fill="#444" stroke="#444" stroke-width="0.08">0.25</text>
<text x="306.6" y="362.09999999999997" font-size="5.0" text-anchor="middle" fill="#333" stroke="#333" stroke-width="0.15" textLength="14.5" lengthAdjust="spacingAndGlyphs">Weight</text>
<rect x="274.4" y="366.7" width="67.2" height="7.1" fill="#d9e6e3" stroke="#444" stroke-width="0.8"/>
<text x="308.3" y="372.5" font-size="5.2" text-anchor="middle" fill="#222" stroke="#222" stroke-width="0.12">PC2</text>
<line x1="274.4" y1="373.8" x2="274.4" y2="428.8" stroke="#444" stroke-width="0.9"/>
<line x1="274.0" y1="428.8" x2="341.6" y2="428.8" stroke="#444" stroke-width="0.9"/>
<line x1="272.6" y1="378.6" x2="274.4" y2="378.6" stroke="#333" stroke-width="0.7"/>
<text x="272.2" y="380.05" font-size="5.0" text-anchor="end" fill="#333" stroke="#333" stroke-width="0.10" textLength="27.4" lengthAdjust="spacingAndGlyphs">IgG2a_mHGG</text>
<line x1="308.2" y1="378.6" x2="336.76" y2="378.6" stroke="#a43cb2" stroke-width="1.4"/>
<circle cx="336.76" cy="378.6" r="1.95" fill="#a43cb2" stroke="none" stroke-width="0.5"/>
<line x1="272.6" y1="386.23" x2="274.4" y2="386.23" stroke="#333" stroke-width="0.7"/>
<text x="272.2" y="387.68" font-size="5.0" text-anchor="end" fill="#333" stroke="#333" stroke-width="0.10" textLength="40.1" lengthAdjust="spacingAndGlyphs">IgG2a_mHGG-HER2</text>
<line x1="308.2" y1="386.23" x2="335.74" y2="386.23" stroke="#a43cb2" stroke-width="1.4"/>
<circle cx="335.74" cy="386.23" r="1.95" fill="#a43cb2" stroke="none" stroke-width="0.5"/>
<line x1="272.6" y1="393.86" x2="274.4" y2="393.86" stroke="#333" stroke-width="0.7"/>
<text x="272.2" y="395.31" font-size="5.0" text-anchor="end" fill="#333" stroke="#333" stroke-width="0.10" textLength="37.8" lengthAdjust="spacingAndGlyphs">IgG3_mHGG-HER2</text>
<line x1="308.2" y1="393.86" x2="333.36" y2="393.86" stroke="#a43cb2" stroke-width="1.4"/>
<circle cx="333.36" cy="393.86" r="1.95" fill="#a43cb2" stroke="none" stroke-width="0.5"/>
<line x1="272.6" y1="401.49" x2="274.4" y2="401.49" stroke="#333" stroke-width="0.7"/>
<text x="272.2" y="402.94" font-size="5.0" text-anchor="end" fill="#333" stroke="#333" stroke-width="0.10" textLength="25.3" lengthAdjust="spacingAndGlyphs">IgG3_mHGG</text>
<line x1="308.2" y1="401.49" x2="331.32" y2="401.49" stroke="#a43cb2" stroke-width="1.4"/>
<circle cx="331.32" cy="401.49" r="1.95" fill="#a43cb2" stroke="none" stroke-width="0.5"/>
<line x1="272.6" y1="409.12" x2="274.4" y2="409.12" stroke="#333" stroke-width="0.7"/>
<text x="272.2" y="410.57" font-size="5.0" text-anchor="end" fill="#333" stroke="#333" stroke-width="0.10" textLength="25.3" lengthAdjust="spacingAndGlyphs">IgG1_mHGG</text>
<line x1="308.2" y1="409.12" x2="330.3" y2="409.12" stroke="#a43cb2" stroke-width="1.4"/>
<circle cx="330.3" cy="409.12" r="1.95" fill="#a43cb2" stroke="none" stroke-width="0.5"/>
<line x1="272.6" y1="416.75" x2="274.4" y2="416.75" stroke="#333" stroke-width="0.7"/>
<text x="272.2" y="418.2" font-size="5.0" text-anchor="end" fill="#333" stroke="#333" stroke-width="0.10" textLength="26.5" lengthAdjust="spacingAndGlyphs">IgG2b_mHGG</text>
<line x1="308.2" y1="416.75" x2="326.9" y2="416.75" stroke="#a43cb2" stroke-width="1.4"/>
<circle cx="326.9" cy="416.75" r="1.95" fill="#a43cb2" stroke="none" stroke-width="0.5"/>
<line x1="272.6" y1="424.38" x2="274.4" y2="424.38" stroke="#333" stroke-width="0.7"/>
<text x="272.2" y="425.83" font-size="5.0" text-anchor="end" fill="#333" stroke="#333" stroke-width="0.10" textLength="37.8" lengthAdjust="spacingAndGlyphs">IgG1_mHGG-HER2</text>
<line x1="308.2" y1="424.38" x2="321.8" y2="424.38" stroke="#a43cb2" stroke-width="1.4"/>
<circle cx="321.8" cy="424.38" r="1.95" fill="#a43cb2" stroke="none" stroke-width="0.5"/>
<line x1="291.2" y1="428.8" x2="291.2" y2="430.3" stroke="#444" stroke-width="0.7"/>
<text x="291.2" y="433.7" font-size="4.2" text-anchor="middle" fill="#444" stroke="#444" stroke-width="0.08">-0.25</text>
<line x1="308.2" y1="428.8" x2="308.2" y2="430.3" stroke="#444" stroke-width="0.7"/>
<text x="308.2" y="433.7" font-size="4.2" text-anchor="middle" fill="#444" stroke="#444" stroke-width="0.08">0.00</text>
<line x1="325.2" y1="428.8" x2="325.2" y2="430.3" stroke="#444" stroke-width="0.7"/>
<text x="325.2" y="433.7" font-size="4.2" text-anchor="middle" fill="#444" stroke="#444" stroke-width="0.08">0.25</text>
<text x="306.6" y="438.2" font-size="5.0" text-anchor="middle" fill="#333" stroke="#333" stroke-width="0.15" textLength="14.5" lengthAdjust="spacingAndGlyphs">Weight</text>
</svg></body></html>
